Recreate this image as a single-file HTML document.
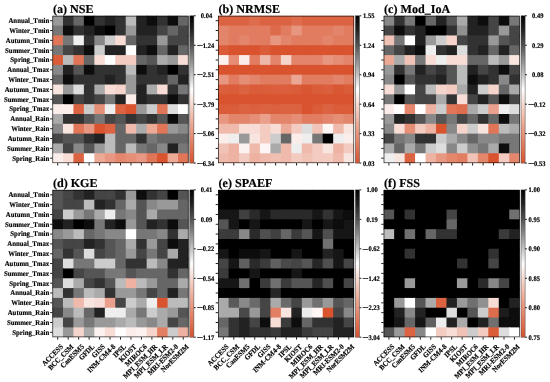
<!DOCTYPE html>
<html><head><meta charset="utf-8"><title>Model evaluation heatmaps</title>
<style>html,body{margin:0;padding:0;background:#fff}svg{display:block}text{font-family:"Liberation Serif",serif;font-weight:bold;fill:#000;stroke:#000;stroke-width:0.18px;text-rendering:geometricPrecision}</style></head><body>
<svg width="550" height="382" viewBox="0 0 550 382">
<defs><linearGradient id="cb" x1="0" y1="0" x2="0" y2="1"><stop offset="0" stop-color="#000"/><stop offset="0.1" stop-color="#242424"/><stop offset="0.2" stop-color="#525252"/><stop offset="0.3" stop-color="#8c8c8c"/><stop offset="0.4" stop-color="#c4c4c4"/><stop offset="0.5" stop-color="#fff"/><stop offset="0.75" stop-color="#eba48e"/><stop offset="1" stop-color="#d8532e"/></linearGradient>
<filter id="bl" x="0" y="0" width="550" height="382" filterUnits="userSpaceOnUse"><feGaussianBlur stdDeviation="0.45"/></filter><filter id="bt" x="0" y="0" width="550" height="382" filterUnits="userSpaceOnUse"><feGaussianBlur stdDeviation="0.3"/></filter></defs>
<rect width="550" height="382" fill="#fff"/>
<g filter="url(#bl)">
<g>
<g>
<rect x="52.50" y="15.80" width="11.46" height="10.82" fill="#999999"/>
<rect x="62.96" y="15.80" width="11.46" height="10.82" fill="#333333"/>
<rect x="73.42" y="15.80" width="11.46" height="10.82" fill="#666666"/>
<rect x="83.88" y="15.80" width="11.46" height="10.82" fill="#000000"/>
<rect x="94.35" y="15.80" width="11.46" height="10.82" fill="#333333"/>
<rect x="104.81" y="15.80" width="11.46" height="10.82" fill="#222222"/>
<rect x="115.27" y="15.80" width="11.46" height="10.82" fill="#333333"/>
<rect x="125.73" y="15.80" width="11.46" height="10.82" fill="#bbbbbb"/>
<rect x="136.19" y="15.80" width="11.46" height="10.82" fill="#222222"/>
<rect x="146.65" y="15.80" width="11.46" height="10.82" fill="#111111"/>
<rect x="157.12" y="15.80" width="11.46" height="10.82" fill="#333333"/>
<rect x="167.58" y="15.80" width="11.46" height="10.82" fill="#111111"/>
<rect x="178.04" y="15.80" width="10.46" height="10.82" fill="#666666"/>
<rect x="52.50" y="25.62" width="11.46" height="10.82" fill="#777777"/>
<rect x="62.96" y="25.62" width="11.46" height="10.82" fill="#111111"/>
<rect x="73.42" y="25.62" width="11.46" height="10.82" fill="#333333"/>
<rect x="83.88" y="25.62" width="11.46" height="10.82" fill="#222222"/>
<rect x="94.35" y="25.62" width="11.46" height="10.82" fill="#111111"/>
<rect x="104.81" y="25.62" width="11.46" height="10.82" fill="#000000"/>
<rect x="115.27" y="25.62" width="11.46" height="10.82" fill="#333333"/>
<rect x="125.73" y="25.62" width="11.46" height="10.82" fill="#999999"/>
<rect x="136.19" y="25.62" width="11.46" height="10.82" fill="#222222"/>
<rect x="146.65" y="25.62" width="11.46" height="10.82" fill="#222222"/>
<rect x="157.12" y="25.62" width="11.46" height="10.82" fill="#444444"/>
<rect x="167.58" y="25.62" width="11.46" height="10.82" fill="#666666"/>
<rect x="178.04" y="25.62" width="10.46" height="10.82" fill="#444444"/>
<rect x="52.50" y="35.44" width="11.46" height="10.82" fill="#e07558"/>
<rect x="62.96" y="35.44" width="11.46" height="10.82" fill="#777777"/>
<rect x="73.42" y="35.44" width="11.46" height="10.82" fill="#f0f0f0"/>
<rect x="83.88" y="35.44" width="11.46" height="10.82" fill="#333333"/>
<rect x="94.35" y="35.44" width="11.46" height="10.82" fill="#888888"/>
<rect x="104.81" y="35.44" width="11.46" height="10.82" fill="#cccccc"/>
<rect x="115.27" y="35.44" width="11.46" height="10.82" fill="#f7ddd5"/>
<rect x="125.73" y="35.44" width="11.46" height="10.82" fill="#666666"/>
<rect x="136.19" y="35.44" width="11.46" height="10.82" fill="#333333"/>
<rect x="146.65" y="35.44" width="11.46" height="10.82" fill="#333333"/>
<rect x="157.12" y="35.44" width="11.46" height="10.82" fill="#999999"/>
<rect x="167.58" y="35.44" width="11.46" height="10.82" fill="#444444"/>
<rect x="178.04" y="35.44" width="10.46" height="10.82" fill="#444444"/>
<rect x="52.50" y="45.26" width="11.46" height="10.82" fill="#777777"/>
<rect x="62.96" y="45.26" width="11.46" height="10.82" fill="#444444"/>
<rect x="73.42" y="45.26" width="11.46" height="10.82" fill="#333333"/>
<rect x="83.88" y="45.26" width="11.46" height="10.82" fill="#111111"/>
<rect x="94.35" y="45.26" width="11.46" height="10.82" fill="#cccccc"/>
<rect x="104.81" y="45.26" width="11.46" height="10.82" fill="#222222"/>
<rect x="115.27" y="45.26" width="11.46" height="10.82" fill="#222222"/>
<rect x="125.73" y="45.26" width="11.46" height="10.82" fill="#ffffff"/>
<rect x="136.19" y="45.26" width="11.46" height="10.82" fill="#222222"/>
<rect x="146.65" y="45.26" width="11.46" height="10.82" fill="#111111"/>
<rect x="157.12" y="45.26" width="11.46" height="10.82" fill="#666666"/>
<rect x="167.58" y="45.26" width="11.46" height="10.82" fill="#222222"/>
<rect x="178.04" y="45.26" width="10.46" height="10.82" fill="#666666"/>
<rect x="52.50" y="55.08" width="11.46" height="10.82" fill="#da5c38"/>
<rect x="62.96" y="55.08" width="11.46" height="10.82" fill="#bbbbbb"/>
<rect x="73.42" y="55.08" width="11.46" height="10.82" fill="#e07558"/>
<rect x="83.88" y="55.08" width="11.46" height="10.82" fill="#666666"/>
<rect x="94.35" y="55.08" width="11.46" height="10.82" fill="#f7ddd5"/>
<rect x="104.81" y="55.08" width="11.46" height="10.82" fill="#ffffff"/>
<rect x="115.27" y="55.08" width="11.46" height="10.82" fill="#f3cbc0"/>
<rect x="125.73" y="55.08" width="11.46" height="10.82" fill="#f3cbc0"/>
<rect x="136.19" y="55.08" width="11.46" height="10.82" fill="#666666"/>
<rect x="146.65" y="55.08" width="11.46" height="10.82" fill="#555555"/>
<rect x="157.12" y="55.08" width="11.46" height="10.82" fill="#aaaaaa"/>
<rect x="167.58" y="55.08" width="11.46" height="10.82" fill="#999999"/>
<rect x="178.04" y="55.08" width="10.46" height="10.82" fill="#f7ddd5"/>
<rect x="52.50" y="64.90" width="11.46" height="10.82" fill="#888888"/>
<rect x="62.96" y="64.90" width="11.46" height="10.82" fill="#222222"/>
<rect x="73.42" y="64.90" width="11.46" height="10.82" fill="#555555"/>
<rect x="83.88" y="64.90" width="11.46" height="10.82" fill="#111111"/>
<rect x="94.35" y="64.90" width="11.46" height="10.82" fill="#333333"/>
<rect x="104.81" y="64.90" width="11.46" height="10.82" fill="#333333"/>
<rect x="115.27" y="64.90" width="11.46" height="10.82" fill="#333333"/>
<rect x="125.73" y="64.90" width="11.46" height="10.82" fill="#bbbbbb"/>
<rect x="136.19" y="64.90" width="11.46" height="10.82" fill="#111111"/>
<rect x="146.65" y="64.90" width="11.46" height="10.82" fill="#333333"/>
<rect x="157.12" y="64.90" width="11.46" height="10.82" fill="#222222"/>
<rect x="167.58" y="64.90" width="11.46" height="10.82" fill="#000000"/>
<rect x="178.04" y="64.90" width="10.46" height="10.82" fill="#333333"/>
<rect x="52.50" y="74.72" width="11.46" height="10.82" fill="#666666"/>
<rect x="62.96" y="74.72" width="11.46" height="10.82" fill="#111111"/>
<rect x="73.42" y="74.72" width="11.46" height="10.82" fill="#333333"/>
<rect x="83.88" y="74.72" width="11.46" height="10.82" fill="#333333"/>
<rect x="94.35" y="74.72" width="11.46" height="10.82" fill="#333333"/>
<rect x="104.81" y="74.72" width="11.46" height="10.82" fill="#222222"/>
<rect x="115.27" y="74.72" width="11.46" height="10.82" fill="#333333"/>
<rect x="125.73" y="74.72" width="11.46" height="10.82" fill="#999999"/>
<rect x="136.19" y="74.72" width="11.46" height="10.82" fill="#333333"/>
<rect x="146.65" y="74.72" width="11.46" height="10.82" fill="#333333"/>
<rect x="157.12" y="74.72" width="11.46" height="10.82" fill="#333333"/>
<rect x="167.58" y="74.72" width="11.46" height="10.82" fill="#666666"/>
<rect x="178.04" y="74.72" width="10.46" height="10.82" fill="#222222"/>
<rect x="52.50" y="84.54" width="11.46" height="10.82" fill="#f9e5e0"/>
<rect x="62.96" y="84.54" width="11.46" height="10.82" fill="#999999"/>
<rect x="73.42" y="84.54" width="11.46" height="10.82" fill="#dddddd"/>
<rect x="83.88" y="84.54" width="11.46" height="10.82" fill="#333333"/>
<rect x="94.35" y="84.54" width="11.46" height="10.82" fill="#aaaaaa"/>
<rect x="104.81" y="84.54" width="11.46" height="10.82" fill="#f7ddd5"/>
<rect x="115.27" y="84.54" width="11.46" height="10.82" fill="#f5d4cb"/>
<rect x="125.73" y="84.54" width="11.46" height="10.82" fill="#999999"/>
<rect x="136.19" y="84.54" width="11.46" height="10.82" fill="#222222"/>
<rect x="146.65" y="84.54" width="11.46" height="10.82" fill="#aaaaaa"/>
<rect x="157.12" y="84.54" width="11.46" height="10.82" fill="#f7ddd5"/>
<rect x="167.58" y="84.54" width="11.46" height="10.82" fill="#333333"/>
<rect x="178.04" y="84.54" width="10.46" height="10.82" fill="#777777"/>
<rect x="52.50" y="94.36" width="11.46" height="10.82" fill="#555555"/>
<rect x="62.96" y="94.36" width="11.46" height="10.82" fill="#000000"/>
<rect x="73.42" y="94.36" width="11.46" height="10.82" fill="#444444"/>
<rect x="83.88" y="94.36" width="11.46" height="10.82" fill="#333333"/>
<rect x="94.35" y="94.36" width="11.46" height="10.82" fill="#444444"/>
<rect x="104.81" y="94.36" width="11.46" height="10.82" fill="#777777"/>
<rect x="115.27" y="94.36" width="11.46" height="10.82" fill="#222222"/>
<rect x="125.73" y="94.36" width="11.46" height="10.82" fill="#fbeeea"/>
<rect x="136.19" y="94.36" width="11.46" height="10.82" fill="#222222"/>
<rect x="146.65" y="94.36" width="11.46" height="10.82" fill="#333333"/>
<rect x="157.12" y="94.36" width="11.46" height="10.82" fill="#333333"/>
<rect x="167.58" y="94.36" width="11.46" height="10.82" fill="#111111"/>
<rect x="178.04" y="94.36" width="10.46" height="10.82" fill="#333333"/>
<rect x="52.50" y="104.18" width="11.46" height="10.82" fill="#fbeeea"/>
<rect x="62.96" y="104.18" width="11.46" height="10.82" fill="#fbeeea"/>
<rect x="73.42" y="104.18" width="11.46" height="10.82" fill="#dc6443"/>
<rect x="83.88" y="104.18" width="11.46" height="10.82" fill="#cccccc"/>
<rect x="94.35" y="104.18" width="11.46" height="10.82" fill="#e68f77"/>
<rect x="104.81" y="104.18" width="11.46" height="10.82" fill="#eeeeee"/>
<rect x="115.27" y="104.18" width="11.46" height="10.82" fill="#dc6443"/>
<rect x="125.73" y="104.18" width="11.46" height="10.82" fill="#d8532e"/>
<rect x="136.19" y="104.18" width="11.46" height="10.82" fill="#999999"/>
<rect x="146.65" y="104.18" width="11.46" height="10.82" fill="#cccccc"/>
<rect x="157.12" y="104.18" width="11.46" height="10.82" fill="#e07558"/>
<rect x="167.58" y="104.18" width="11.46" height="10.82" fill="#dddddd"/>
<rect x="178.04" y="104.18" width="10.46" height="10.82" fill="#ffffff"/>
<rect x="52.50" y="114.00" width="11.46" height="10.82" fill="#aaaaaa"/>
<rect x="62.96" y="114.00" width="11.46" height="10.82" fill="#333333"/>
<rect x="73.42" y="114.00" width="11.46" height="10.82" fill="#333333"/>
<rect x="83.88" y="114.00" width="11.46" height="10.82" fill="#555555"/>
<rect x="94.35" y="114.00" width="11.46" height="10.82" fill="#777777"/>
<rect x="104.81" y="114.00" width="11.46" height="10.82" fill="#444444"/>
<rect x="115.27" y="114.00" width="11.46" height="10.82" fill="#555555"/>
<rect x="125.73" y="114.00" width="11.46" height="10.82" fill="#333333"/>
<rect x="136.19" y="114.00" width="11.46" height="10.82" fill="#444444"/>
<rect x="146.65" y="114.00" width="11.46" height="10.82" fill="#333333"/>
<rect x="157.12" y="114.00" width="11.46" height="10.82" fill="#555555"/>
<rect x="167.58" y="114.00" width="11.46" height="10.82" fill="#111111"/>
<rect x="178.04" y="114.00" width="10.46" height="10.82" fill="#555555"/>
<rect x="52.50" y="123.82" width="11.46" height="10.82" fill="#888888"/>
<rect x="62.96" y="123.82" width="11.46" height="10.82" fill="#f9e5e0"/>
<rect x="73.42" y="123.82" width="11.46" height="10.82" fill="#e07558"/>
<rect x="83.88" y="123.82" width="11.46" height="10.82" fill="#e89882"/>
<rect x="94.35" y="123.82" width="11.46" height="10.82" fill="#d8532e"/>
<rect x="104.81" y="123.82" width="11.46" height="10.82" fill="#dc6443"/>
<rect x="115.27" y="123.82" width="11.46" height="10.82" fill="#666666"/>
<rect x="125.73" y="123.82" width="11.46" height="10.82" fill="#efbaab"/>
<rect x="136.19" y="123.82" width="11.46" height="10.82" fill="#aaaaaa"/>
<rect x="146.65" y="123.82" width="11.46" height="10.82" fill="#eca996"/>
<rect x="157.12" y="123.82" width="11.46" height="10.82" fill="#e07558"/>
<rect x="167.58" y="123.82" width="11.46" height="10.82" fill="#999999"/>
<rect x="178.04" y="123.82" width="10.46" height="10.82" fill="#888888"/>
<rect x="52.50" y="133.64" width="11.46" height="10.82" fill="#444444"/>
<rect x="62.96" y="133.64" width="11.46" height="10.82" fill="#555555"/>
<rect x="73.42" y="133.64" width="11.46" height="10.82" fill="#555555"/>
<rect x="83.88" y="133.64" width="11.46" height="10.82" fill="#333333"/>
<rect x="94.35" y="133.64" width="11.46" height="10.82" fill="#222222"/>
<rect x="104.81" y="133.64" width="11.46" height="10.82" fill="#bbbbbb"/>
<rect x="115.27" y="133.64" width="11.46" height="10.82" fill="#666666"/>
<rect x="125.73" y="133.64" width="11.46" height="10.82" fill="#666666"/>
<rect x="136.19" y="133.64" width="11.46" height="10.82" fill="#333333"/>
<rect x="146.65" y="133.64" width="11.46" height="10.82" fill="#777777"/>
<rect x="157.12" y="133.64" width="11.46" height="10.82" fill="#666666"/>
<rect x="167.58" y="133.64" width="11.46" height="10.82" fill="#666666"/>
<rect x="178.04" y="133.64" width="10.46" height="10.82" fill="#666666"/>
<rect x="52.50" y="143.46" width="11.46" height="10.82" fill="#aaaaaa"/>
<rect x="62.96" y="143.46" width="11.46" height="10.82" fill="#444444"/>
<rect x="73.42" y="143.46" width="11.46" height="10.82" fill="#888888"/>
<rect x="83.88" y="143.46" width="11.46" height="10.82" fill="#555555"/>
<rect x="94.35" y="143.46" width="11.46" height="10.82" fill="#999999"/>
<rect x="104.81" y="143.46" width="11.46" height="10.82" fill="#bbbbbb"/>
<rect x="115.27" y="143.46" width="11.46" height="10.82" fill="#666666"/>
<rect x="125.73" y="143.46" width="11.46" height="10.82" fill="#bbbbbb"/>
<rect x="136.19" y="143.46" width="11.46" height="10.82" fill="#777777"/>
<rect x="146.65" y="143.46" width="11.46" height="10.82" fill="#666666"/>
<rect x="157.12" y="143.46" width="11.46" height="10.82" fill="#888888"/>
<rect x="167.58" y="143.46" width="11.46" height="10.82" fill="#222222"/>
<rect x="178.04" y="143.46" width="10.46" height="10.82" fill="#777777"/>
<rect x="52.50" y="153.28" width="11.46" height="9.82" fill="#fbeeea"/>
<rect x="62.96" y="153.28" width="11.46" height="9.82" fill="#f7ddd5"/>
<rect x="73.42" y="153.28" width="11.46" height="9.82" fill="#dc6443"/>
<rect x="83.88" y="153.28" width="11.46" height="9.82" fill="#ffffff"/>
<rect x="94.35" y="153.28" width="11.46" height="9.82" fill="#eca996"/>
<rect x="104.81" y="153.28" width="11.46" height="9.82" fill="#e89882"/>
<rect x="115.27" y="153.28" width="11.46" height="9.82" fill="#e4876d"/>
<rect x="125.73" y="153.28" width="11.46" height="9.82" fill="#e68f77"/>
<rect x="136.19" y="153.28" width="11.46" height="9.82" fill="#e89882"/>
<rect x="146.65" y="153.28" width="11.46" height="9.82" fill="#e07558"/>
<rect x="157.12" y="153.28" width="11.46" height="9.82" fill="#d8532e"/>
<rect x="167.58" y="153.28" width="11.46" height="9.82" fill="#eca996"/>
<rect x="178.04" y="153.28" width="10.46" height="9.82" fill="#e07558"/>
</g>
<rect x="52.80" y="16.10" width="135.40" height="146.70" fill="none" stroke="#000" stroke-width="0.6"/>
<line x1="50.10" y1="20.71" x2="52.50" y2="20.71" stroke="#000" stroke-width="0.9"/>
<line x1="50.10" y1="30.53" x2="52.50" y2="30.53" stroke="#000" stroke-width="0.9"/>
<line x1="50.10" y1="40.35" x2="52.50" y2="40.35" stroke="#000" stroke-width="0.9"/>
<line x1="50.10" y1="50.17" x2="52.50" y2="50.17" stroke="#000" stroke-width="0.9"/>
<line x1="50.10" y1="59.99" x2="52.50" y2="59.99" stroke="#000" stroke-width="0.9"/>
<line x1="50.10" y1="69.81" x2="52.50" y2="69.81" stroke="#000" stroke-width="0.9"/>
<line x1="50.10" y1="79.63" x2="52.50" y2="79.63" stroke="#000" stroke-width="0.9"/>
<line x1="50.10" y1="89.45" x2="52.50" y2="89.45" stroke="#000" stroke-width="0.9"/>
<line x1="50.10" y1="99.27" x2="52.50" y2="99.27" stroke="#000" stroke-width="0.9"/>
<line x1="50.10" y1="109.09" x2="52.50" y2="109.09" stroke="#000" stroke-width="0.9"/>
<line x1="50.10" y1="118.91" x2="52.50" y2="118.91" stroke="#000" stroke-width="0.9"/>
<line x1="50.10" y1="128.73" x2="52.50" y2="128.73" stroke="#000" stroke-width="0.9"/>
<line x1="50.10" y1="138.55" x2="52.50" y2="138.55" stroke="#000" stroke-width="0.9"/>
<line x1="50.10" y1="148.37" x2="52.50" y2="148.37" stroke="#000" stroke-width="0.9"/>
<line x1="50.10" y1="158.19" x2="52.50" y2="158.19" stroke="#000" stroke-width="0.9"/>
<line x1="57.73" y1="163.10" x2="57.73" y2="165.50" stroke="#000" stroke-width="0.9"/>
<line x1="68.19" y1="163.10" x2="68.19" y2="165.50" stroke="#000" stroke-width="0.9"/>
<line x1="78.65" y1="163.10" x2="78.65" y2="165.50" stroke="#000" stroke-width="0.9"/>
<line x1="89.12" y1="163.10" x2="89.12" y2="165.50" stroke="#000" stroke-width="0.9"/>
<line x1="99.58" y1="163.10" x2="99.58" y2="165.50" stroke="#000" stroke-width="0.9"/>
<line x1="110.04" y1="163.10" x2="110.04" y2="165.50" stroke="#000" stroke-width="0.9"/>
<line x1="120.50" y1="163.10" x2="120.50" y2="165.50" stroke="#000" stroke-width="0.9"/>
<line x1="130.96" y1="163.10" x2="130.96" y2="165.50" stroke="#000" stroke-width="0.9"/>
<line x1="141.42" y1="163.10" x2="141.42" y2="165.50" stroke="#000" stroke-width="0.9"/>
<line x1="151.88" y1="163.10" x2="151.88" y2="165.50" stroke="#000" stroke-width="0.9"/>
<line x1="162.35" y1="163.10" x2="162.35" y2="165.50" stroke="#000" stroke-width="0.9"/>
<line x1="172.81" y1="163.10" x2="172.81" y2="165.50" stroke="#000" stroke-width="0.9"/>
<line x1="183.27" y1="163.10" x2="183.27" y2="165.50" stroke="#000" stroke-width="0.9"/>
<rect x="189.80" y="15.80" width="4.10" height="147.30" fill="url(#cb)" stroke="#444" stroke-width="0.5"/>
<line x1="193.90" y1="15.80" x2="195.70" y2="15.80" stroke="#000" stroke-width="0.9"/>
<line x1="193.90" y1="45.26" x2="195.70" y2="45.26" stroke="#000" stroke-width="0.9"/>
<line x1="193.90" y1="74.72" x2="195.70" y2="74.72" stroke="#000" stroke-width="0.9"/>
<line x1="193.90" y1="104.18" x2="195.70" y2="104.18" stroke="#000" stroke-width="0.9"/>
<line x1="193.90" y1="133.64" x2="195.70" y2="133.64" stroke="#000" stroke-width="0.9"/>
<line x1="193.90" y1="163.10" x2="195.70" y2="163.10" stroke="#000" stroke-width="0.9"/>
</g>
<g>
<g>
<rect x="218.10" y="15.80" width="11.46" height="10.82" fill="#dc6443"/>
<rect x="228.56" y="15.80" width="11.46" height="10.82" fill="#dc6443"/>
<rect x="239.02" y="15.80" width="11.46" height="10.82" fill="#dc6443"/>
<rect x="249.48" y="15.80" width="11.46" height="10.82" fill="#de6d4d"/>
<rect x="259.95" y="15.80" width="11.46" height="10.82" fill="#dc6443"/>
<rect x="270.41" y="15.80" width="11.46" height="10.82" fill="#dc6443"/>
<rect x="280.87" y="15.80" width="11.46" height="10.82" fill="#dc6443"/>
<rect x="291.33" y="15.80" width="11.46" height="10.82" fill="#de6d4d"/>
<rect x="301.79" y="15.80" width="11.46" height="10.82" fill="#dc6443"/>
<rect x="312.25" y="15.80" width="11.46" height="10.82" fill="#dc6443"/>
<rect x="322.72" y="15.80" width="11.46" height="10.82" fill="#dc6443"/>
<rect x="333.18" y="15.80" width="11.46" height="10.82" fill="#dc6443"/>
<rect x="343.64" y="15.80" width="10.46" height="10.82" fill="#dc6443"/>
<rect x="218.10" y="25.62" width="11.46" height="10.82" fill="#e3856b"/>
<rect x="228.56" y="25.62" width="11.46" height="10.82" fill="#e17c60"/>
<rect x="239.02" y="25.62" width="11.46" height="10.82" fill="#e17c60"/>
<rect x="249.48" y="25.62" width="11.46" height="10.82" fill="#e17c60"/>
<rect x="259.95" y="25.62" width="11.46" height="10.82" fill="#e17c60"/>
<rect x="270.41" y="25.62" width="11.46" height="10.82" fill="#dd6b4b"/>
<rect x="280.87" y="25.62" width="11.46" height="10.82" fill="#e17c60"/>
<rect x="291.33" y="25.62" width="11.46" height="10.82" fill="#e79680"/>
<rect x="301.79" y="25.62" width="11.46" height="10.82" fill="#e17c60"/>
<rect x="312.25" y="25.62" width="11.46" height="10.82" fill="#e17c60"/>
<rect x="322.72" y="25.62" width="11.46" height="10.82" fill="#e17c60"/>
<rect x="333.18" y="25.62" width="11.46" height="10.82" fill="#e3856b"/>
<rect x="343.64" y="25.62" width="10.46" height="10.82" fill="#e17c60"/>
<rect x="218.10" y="35.44" width="11.46" height="10.82" fill="#e3856b"/>
<rect x="228.56" y="35.44" width="11.46" height="10.82" fill="#e17c60"/>
<rect x="239.02" y="35.44" width="11.46" height="10.82" fill="#e3856b"/>
<rect x="249.48" y="35.44" width="11.46" height="10.82" fill="#e17c60"/>
<rect x="259.95" y="35.44" width="11.46" height="10.82" fill="#e17c60"/>
<rect x="270.41" y="35.44" width="11.46" height="10.82" fill="#e79680"/>
<rect x="280.87" y="35.44" width="11.46" height="10.82" fill="#e3856b"/>
<rect x="291.33" y="35.44" width="11.46" height="10.82" fill="#e17c60"/>
<rect x="301.79" y="35.44" width="11.46" height="10.82" fill="#e17c60"/>
<rect x="312.25" y="35.44" width="11.46" height="10.82" fill="#e17c60"/>
<rect x="322.72" y="35.44" width="11.46" height="10.82" fill="#e3856b"/>
<rect x="333.18" y="35.44" width="11.46" height="10.82" fill="#e17c60"/>
<rect x="343.64" y="35.44" width="10.46" height="10.82" fill="#e17c60"/>
<rect x="218.10" y="45.26" width="11.46" height="10.82" fill="#da5c38"/>
<rect x="228.56" y="45.26" width="11.46" height="10.82" fill="#d8532e"/>
<rect x="239.02" y="45.26" width="11.46" height="10.82" fill="#d8532e"/>
<rect x="249.48" y="45.26" width="11.46" height="10.82" fill="#d8532e"/>
<rect x="259.95" y="45.26" width="11.46" height="10.82" fill="#da5c38"/>
<rect x="270.41" y="45.26" width="11.46" height="10.82" fill="#d8532e"/>
<rect x="280.87" y="45.26" width="11.46" height="10.82" fill="#d8532e"/>
<rect x="291.33" y="45.26" width="11.46" height="10.82" fill="#d8532e"/>
<rect x="301.79" y="45.26" width="11.46" height="10.82" fill="#d8532e"/>
<rect x="312.25" y="45.26" width="11.46" height="10.82" fill="#d8532e"/>
<rect x="322.72" y="45.26" width="11.46" height="10.82" fill="#d8532e"/>
<rect x="333.18" y="45.26" width="11.46" height="10.82" fill="#d8532e"/>
<rect x="343.64" y="45.26" width="10.46" height="10.82" fill="#d8532e"/>
<rect x="218.10" y="55.08" width="11.46" height="10.82" fill="#fcf3f0"/>
<rect x="228.56" y="55.08" width="11.46" height="10.82" fill="#e58d75"/>
<rect x="239.02" y="55.08" width="11.46" height="10.82" fill="#fbeeea"/>
<rect x="249.48" y="55.08" width="11.46" height="10.82" fill="#e17c60"/>
<rect x="259.95" y="55.08" width="11.46" height="10.82" fill="#efb7a7"/>
<rect x="270.41" y="55.08" width="11.46" height="10.82" fill="#e3856b"/>
<rect x="280.87" y="55.08" width="11.46" height="10.82" fill="#f5d4cb"/>
<rect x="291.33" y="55.08" width="11.46" height="10.82" fill="#e3856b"/>
<rect x="301.79" y="55.08" width="11.46" height="10.82" fill="#e3856b"/>
<rect x="312.25" y="55.08" width="11.46" height="10.82" fill="#e3856b"/>
<rect x="322.72" y="55.08" width="11.46" height="10.82" fill="#e79680"/>
<rect x="333.18" y="55.08" width="11.46" height="10.82" fill="#e58d75"/>
<rect x="343.64" y="55.08" width="10.46" height="10.82" fill="#e3856b"/>
<rect x="218.10" y="64.90" width="11.46" height="10.82" fill="#d8532e"/>
<rect x="228.56" y="64.90" width="11.46" height="10.82" fill="#d8532e"/>
<rect x="239.02" y="64.90" width="11.46" height="10.82" fill="#d8532e"/>
<rect x="249.48" y="64.90" width="11.46" height="10.82" fill="#d8532e"/>
<rect x="259.95" y="64.90" width="11.46" height="10.82" fill="#d8532e"/>
<rect x="270.41" y="64.90" width="11.46" height="10.82" fill="#d8532e"/>
<rect x="280.87" y="64.90" width="11.46" height="10.82" fill="#d8532e"/>
<rect x="291.33" y="64.90" width="11.46" height="10.82" fill="#d8532e"/>
<rect x="301.79" y="64.90" width="11.46" height="10.82" fill="#d8532e"/>
<rect x="312.25" y="64.90" width="11.46" height="10.82" fill="#d8532e"/>
<rect x="322.72" y="64.90" width="11.46" height="10.82" fill="#d8532e"/>
<rect x="333.18" y="64.90" width="11.46" height="10.82" fill="#d8532e"/>
<rect x="343.64" y="64.90" width="10.46" height="10.82" fill="#d8532e"/>
<rect x="218.10" y="74.72" width="11.46" height="10.82" fill="#e79680"/>
<rect x="228.56" y="74.72" width="11.46" height="10.82" fill="#e17c60"/>
<rect x="239.02" y="74.72" width="11.46" height="10.82" fill="#e58d75"/>
<rect x="249.48" y="74.72" width="11.46" height="10.82" fill="#e3856b"/>
<rect x="259.95" y="74.72" width="11.46" height="10.82" fill="#e17c60"/>
<rect x="270.41" y="74.72" width="11.46" height="10.82" fill="#e17c60"/>
<rect x="280.87" y="74.72" width="11.46" height="10.82" fill="#e17c60"/>
<rect x="291.33" y="74.72" width="11.46" height="10.82" fill="#eba794"/>
<rect x="301.79" y="74.72" width="11.46" height="10.82" fill="#e17c60"/>
<rect x="312.25" y="74.72" width="11.46" height="10.82" fill="#e17c60"/>
<rect x="322.72" y="74.72" width="11.46" height="10.82" fill="#e17c60"/>
<rect x="333.18" y="74.72" width="11.46" height="10.82" fill="#e3856b"/>
<rect x="343.64" y="74.72" width="10.46" height="10.82" fill="#e17c60"/>
<rect x="218.10" y="84.54" width="11.46" height="10.82" fill="#db5f3d"/>
<rect x="228.56" y="84.54" width="11.46" height="10.82" fill="#da5c38"/>
<rect x="239.02" y="84.54" width="11.46" height="10.82" fill="#dc6443"/>
<rect x="249.48" y="84.54" width="11.46" height="10.82" fill="#da5c38"/>
<rect x="259.95" y="84.54" width="11.46" height="10.82" fill="#da5c38"/>
<rect x="270.41" y="84.54" width="11.46" height="10.82" fill="#db5f3d"/>
<rect x="280.87" y="84.54" width="11.46" height="10.82" fill="#db5f3d"/>
<rect x="291.33" y="84.54" width="11.46" height="10.82" fill="#da5c38"/>
<rect x="301.79" y="84.54" width="11.46" height="10.82" fill="#d95632"/>
<rect x="312.25" y="84.54" width="11.46" height="10.82" fill="#da5c38"/>
<rect x="322.72" y="84.54" width="11.46" height="10.82" fill="#db5f3d"/>
<rect x="333.18" y="84.54" width="11.46" height="10.82" fill="#d95632"/>
<rect x="343.64" y="84.54" width="10.46" height="10.82" fill="#da5c38"/>
<rect x="218.10" y="94.36" width="11.46" height="10.82" fill="#d8532e"/>
<rect x="228.56" y="94.36" width="11.46" height="10.82" fill="#d8532e"/>
<rect x="239.02" y="94.36" width="11.46" height="10.82" fill="#d8532e"/>
<rect x="249.48" y="94.36" width="11.46" height="10.82" fill="#d8532e"/>
<rect x="259.95" y="94.36" width="11.46" height="10.82" fill="#d8532e"/>
<rect x="270.41" y="94.36" width="11.46" height="10.82" fill="#d8532e"/>
<rect x="280.87" y="94.36" width="11.46" height="10.82" fill="#d8532e"/>
<rect x="291.33" y="94.36" width="11.46" height="10.82" fill="#d8532e"/>
<rect x="301.79" y="94.36" width="11.46" height="10.82" fill="#d8532e"/>
<rect x="312.25" y="94.36" width="11.46" height="10.82" fill="#d8532e"/>
<rect x="322.72" y="94.36" width="11.46" height="10.82" fill="#d8532e"/>
<rect x="333.18" y="94.36" width="11.46" height="10.82" fill="#d8532e"/>
<rect x="343.64" y="94.36" width="10.46" height="10.82" fill="#d8532e"/>
<rect x="218.10" y="104.18" width="11.46" height="10.82" fill="#da5c38"/>
<rect x="228.56" y="104.18" width="11.46" height="10.82" fill="#da5c38"/>
<rect x="239.02" y="104.18" width="11.46" height="10.82" fill="#dc6443"/>
<rect x="249.48" y="104.18" width="11.46" height="10.82" fill="#db613f"/>
<rect x="259.95" y="104.18" width="11.46" height="10.82" fill="#dc6443"/>
<rect x="270.41" y="104.18" width="11.46" height="10.82" fill="#db613f"/>
<rect x="280.87" y="104.18" width="11.46" height="10.82" fill="#dc6443"/>
<rect x="291.33" y="104.18" width="11.46" height="10.82" fill="#dc6443"/>
<rect x="301.79" y="104.18" width="11.46" height="10.82" fill="#d8532e"/>
<rect x="312.25" y="104.18" width="11.46" height="10.82" fill="#da5c38"/>
<rect x="322.72" y="104.18" width="11.46" height="10.82" fill="#dc6443"/>
<rect x="333.18" y="104.18" width="11.46" height="10.82" fill="#da5c38"/>
<rect x="343.64" y="104.18" width="10.46" height="10.82" fill="#da5c38"/>
<rect x="218.10" y="114.00" width="11.46" height="10.82" fill="#e79680"/>
<rect x="228.56" y="114.00" width="11.46" height="10.82" fill="#e3856b"/>
<rect x="239.02" y="114.00" width="11.46" height="10.82" fill="#e3856b"/>
<rect x="249.48" y="114.00" width="11.46" height="10.82" fill="#e58d75"/>
<rect x="259.95" y="114.00" width="11.46" height="10.82" fill="#e99f8a"/>
<rect x="270.41" y="114.00" width="11.46" height="10.82" fill="#e3856b"/>
<rect x="280.87" y="114.00" width="11.46" height="10.82" fill="#e3856b"/>
<rect x="291.33" y="114.00" width="11.46" height="10.82" fill="#e58d75"/>
<rect x="301.79" y="114.00" width="11.46" height="10.82" fill="#e17c60"/>
<rect x="312.25" y="114.00" width="11.46" height="10.82" fill="#e17c60"/>
<rect x="322.72" y="114.00" width="11.46" height="10.82" fill="#e3856b"/>
<rect x="333.18" y="114.00" width="11.46" height="10.82" fill="#e58d75"/>
<rect x="343.64" y="114.00" width="10.46" height="10.82" fill="#e3856b"/>
<rect x="218.10" y="123.82" width="11.46" height="10.82" fill="#efbaab"/>
<rect x="228.56" y="123.82" width="11.46" height="10.82" fill="#efbaab"/>
<rect x="239.02" y="123.82" width="11.46" height="10.82" fill="#f7ddd5"/>
<rect x="249.48" y="123.82" width="11.46" height="10.82" fill="#f7ddd5"/>
<rect x="259.95" y="123.82" width="11.46" height="10.82" fill="#f3cbc0"/>
<rect x="270.41" y="123.82" width="11.46" height="10.82" fill="#f7ddd5"/>
<rect x="280.87" y="123.82" width="11.46" height="10.82" fill="#eca996"/>
<rect x="291.33" y="123.82" width="11.46" height="10.82" fill="#f3cbc0"/>
<rect x="301.79" y="123.82" width="11.46" height="10.82" fill="#dddddd"/>
<rect x="312.25" y="123.82" width="11.46" height="10.82" fill="#f1c3b6"/>
<rect x="322.72" y="123.82" width="11.46" height="10.82" fill="#fdf6f5"/>
<rect x="333.18" y="123.82" width="11.46" height="10.82" fill="#efbaab"/>
<rect x="343.64" y="123.82" width="10.46" height="10.82" fill="#f9e5e0"/>
<rect x="218.10" y="133.64" width="11.46" height="10.82" fill="#fbeeea"/>
<rect x="228.56" y="133.64" width="11.46" height="10.82" fill="#eeeeee"/>
<rect x="239.02" y="133.64" width="11.46" height="10.82" fill="#999999"/>
<rect x="249.48" y="133.64" width="11.46" height="10.82" fill="#f9e5e0"/>
<rect x="259.95" y="133.64" width="11.46" height="10.82" fill="#f3cbc0"/>
<rect x="270.41" y="133.64" width="11.46" height="10.82" fill="#cccccc"/>
<rect x="280.87" y="133.64" width="11.46" height="10.82" fill="#666666"/>
<rect x="291.33" y="133.64" width="11.46" height="10.82" fill="#fbeeea"/>
<rect x="301.79" y="133.64" width="11.46" height="10.82" fill="#eeeeee"/>
<rect x="312.25" y="133.64" width="11.46" height="10.82" fill="#777777"/>
<rect x="322.72" y="133.64" width="11.46" height="10.82" fill="#000000"/>
<rect x="333.18" y="133.64" width="11.46" height="10.82" fill="#eeeeee"/>
<rect x="343.64" y="133.64" width="10.46" height="10.82" fill="#fbeeea"/>
<rect x="218.10" y="143.46" width="11.46" height="10.82" fill="#f1c3b6"/>
<rect x="228.56" y="143.46" width="11.46" height="10.82" fill="#edb2a1"/>
<rect x="239.02" y="143.46" width="11.46" height="10.82" fill="#fcf3f0"/>
<rect x="249.48" y="143.46" width="11.46" height="10.82" fill="#efbaab"/>
<rect x="259.95" y="143.46" width="11.46" height="10.82" fill="#fdf6f5"/>
<rect x="270.41" y="143.46" width="11.46" height="10.82" fill="#aaaaaa"/>
<rect x="280.87" y="143.46" width="11.46" height="10.82" fill="#efbaab"/>
<rect x="291.33" y="143.46" width="11.46" height="10.82" fill="#eeeeee"/>
<rect x="301.79" y="143.46" width="11.46" height="10.82" fill="#efbaab"/>
<rect x="312.25" y="143.46" width="11.46" height="10.82" fill="#f3cbc0"/>
<rect x="322.72" y="143.46" width="11.46" height="10.82" fill="#f9e5e0"/>
<rect x="333.18" y="143.46" width="11.46" height="10.82" fill="#edb2a1"/>
<rect x="343.64" y="143.46" width="10.46" height="10.82" fill="#f3cbc0"/>
<rect x="218.10" y="153.28" width="11.46" height="9.82" fill="#efbaab"/>
<rect x="228.56" y="153.28" width="11.46" height="9.82" fill="#edb2a1"/>
<rect x="239.02" y="153.28" width="11.46" height="9.82" fill="#f3cbc0"/>
<rect x="249.48" y="153.28" width="11.46" height="9.82" fill="#edb2a1"/>
<rect x="259.95" y="153.28" width="11.46" height="9.82" fill="#efbaab"/>
<rect x="270.41" y="153.28" width="11.46" height="9.82" fill="#f1bfb2"/>
<rect x="280.87" y="153.28" width="11.46" height="9.82" fill="#efbaab"/>
<rect x="291.33" y="153.28" width="11.46" height="9.82" fill="#f3cbc0"/>
<rect x="301.79" y="153.28" width="11.46" height="9.82" fill="#f1c3b6"/>
<rect x="312.25" y="153.28" width="11.46" height="9.82" fill="#f3cbc0"/>
<rect x="322.72" y="153.28" width="11.46" height="9.82" fill="#f3cbc0"/>
<rect x="333.18" y="153.28" width="11.46" height="9.82" fill="#efbaab"/>
<rect x="343.64" y="153.28" width="10.46" height="9.82" fill="#f9e5e0"/>
</g>
<rect x="218.40" y="16.10" width="135.40" height="146.70" fill="none" stroke="#000" stroke-width="0.6"/>
<line x1="215.70" y1="20.71" x2="218.10" y2="20.71" stroke="#000" stroke-width="0.9"/>
<line x1="215.70" y1="30.53" x2="218.10" y2="30.53" stroke="#000" stroke-width="0.9"/>
<line x1="215.70" y1="40.35" x2="218.10" y2="40.35" stroke="#000" stroke-width="0.9"/>
<line x1="215.70" y1="50.17" x2="218.10" y2="50.17" stroke="#000" stroke-width="0.9"/>
<line x1="215.70" y1="59.99" x2="218.10" y2="59.99" stroke="#000" stroke-width="0.9"/>
<line x1="215.70" y1="69.81" x2="218.10" y2="69.81" stroke="#000" stroke-width="0.9"/>
<line x1="215.70" y1="79.63" x2="218.10" y2="79.63" stroke="#000" stroke-width="0.9"/>
<line x1="215.70" y1="89.45" x2="218.10" y2="89.45" stroke="#000" stroke-width="0.9"/>
<line x1="215.70" y1="99.27" x2="218.10" y2="99.27" stroke="#000" stroke-width="0.9"/>
<line x1="215.70" y1="109.09" x2="218.10" y2="109.09" stroke="#000" stroke-width="0.9"/>
<line x1="215.70" y1="118.91" x2="218.10" y2="118.91" stroke="#000" stroke-width="0.9"/>
<line x1="215.70" y1="128.73" x2="218.10" y2="128.73" stroke="#000" stroke-width="0.9"/>
<line x1="215.70" y1="138.55" x2="218.10" y2="138.55" stroke="#000" stroke-width="0.9"/>
<line x1="215.70" y1="148.37" x2="218.10" y2="148.37" stroke="#000" stroke-width="0.9"/>
<line x1="215.70" y1="158.19" x2="218.10" y2="158.19" stroke="#000" stroke-width="0.9"/>
<line x1="223.33" y1="163.10" x2="223.33" y2="165.50" stroke="#000" stroke-width="0.9"/>
<line x1="233.79" y1="163.10" x2="233.79" y2="165.50" stroke="#000" stroke-width="0.9"/>
<line x1="244.25" y1="163.10" x2="244.25" y2="165.50" stroke="#000" stroke-width="0.9"/>
<line x1="254.72" y1="163.10" x2="254.72" y2="165.50" stroke="#000" stroke-width="0.9"/>
<line x1="265.18" y1="163.10" x2="265.18" y2="165.50" stroke="#000" stroke-width="0.9"/>
<line x1="275.64" y1="163.10" x2="275.64" y2="165.50" stroke="#000" stroke-width="0.9"/>
<line x1="286.10" y1="163.10" x2="286.10" y2="165.50" stroke="#000" stroke-width="0.9"/>
<line x1="296.56" y1="163.10" x2="296.56" y2="165.50" stroke="#000" stroke-width="0.9"/>
<line x1="307.02" y1="163.10" x2="307.02" y2="165.50" stroke="#000" stroke-width="0.9"/>
<line x1="317.48" y1="163.10" x2="317.48" y2="165.50" stroke="#000" stroke-width="0.9"/>
<line x1="327.95" y1="163.10" x2="327.95" y2="165.50" stroke="#000" stroke-width="0.9"/>
<line x1="338.41" y1="163.10" x2="338.41" y2="165.50" stroke="#000" stroke-width="0.9"/>
<line x1="348.87" y1="163.10" x2="348.87" y2="165.50" stroke="#000" stroke-width="0.9"/>
<rect x="355.40" y="15.80" width="4.10" height="147.30" fill="url(#cb)" stroke="#444" stroke-width="0.5"/>
<line x1="359.50" y1="15.80" x2="361.30" y2="15.80" stroke="#000" stroke-width="0.9"/>
<line x1="359.50" y1="45.26" x2="361.30" y2="45.26" stroke="#000" stroke-width="0.9"/>
<line x1="359.50" y1="74.72" x2="361.30" y2="74.72" stroke="#000" stroke-width="0.9"/>
<line x1="359.50" y1="104.18" x2="361.30" y2="104.18" stroke="#000" stroke-width="0.9"/>
<line x1="359.50" y1="133.64" x2="361.30" y2="133.64" stroke="#000" stroke-width="0.9"/>
<line x1="359.50" y1="163.10" x2="361.30" y2="163.10" stroke="#000" stroke-width="0.9"/>
</g>
<g>
<g>
<rect x="383.70" y="15.80" width="11.46" height="10.82" fill="#888888"/>
<rect x="394.16" y="15.80" width="11.46" height="10.82" fill="#333333"/>
<rect x="404.62" y="15.80" width="11.46" height="10.82" fill="#777777"/>
<rect x="415.08" y="15.80" width="11.46" height="10.82" fill="#000000"/>
<rect x="425.55" y="15.80" width="11.46" height="10.82" fill="#666666"/>
<rect x="436.01" y="15.80" width="11.46" height="10.82" fill="#222222"/>
<rect x="446.47" y="15.80" width="11.46" height="10.82" fill="#555555"/>
<rect x="456.93" y="15.80" width="11.46" height="10.82" fill="#aaaaaa"/>
<rect x="467.39" y="15.80" width="11.46" height="10.82" fill="#222222"/>
<rect x="477.85" y="15.80" width="11.46" height="10.82" fill="#111111"/>
<rect x="488.32" y="15.80" width="11.46" height="10.82" fill="#444444"/>
<rect x="498.78" y="15.80" width="11.46" height="10.82" fill="#111111"/>
<rect x="509.24" y="15.80" width="10.46" height="10.82" fill="#777777"/>
<rect x="383.70" y="25.62" width="11.46" height="10.82" fill="#444444"/>
<rect x="394.16" y="25.62" width="11.46" height="10.82" fill="#111111"/>
<rect x="404.62" y="25.62" width="11.46" height="10.82" fill="#333333"/>
<rect x="415.08" y="25.62" width="11.46" height="10.82" fill="#222222"/>
<rect x="425.55" y="25.62" width="11.46" height="10.82" fill="#000000"/>
<rect x="436.01" y="25.62" width="11.46" height="10.82" fill="#000000"/>
<rect x="446.47" y="25.62" width="11.46" height="10.82" fill="#333333"/>
<rect x="456.93" y="25.62" width="11.46" height="10.82" fill="#909090"/>
<rect x="467.39" y="25.62" width="11.46" height="10.82" fill="#222222"/>
<rect x="477.85" y="25.62" width="11.46" height="10.82" fill="#222222"/>
<rect x="488.32" y="25.62" width="11.46" height="10.82" fill="#444444"/>
<rect x="498.78" y="25.62" width="11.46" height="10.82" fill="#999999"/>
<rect x="509.24" y="25.62" width="10.46" height="10.82" fill="#444444"/>
<rect x="383.70" y="35.44" width="11.46" height="10.82" fill="#f1c3b6"/>
<rect x="394.16" y="35.44" width="11.46" height="10.82" fill="#777777"/>
<rect x="404.62" y="35.44" width="11.46" height="10.82" fill="#ffffff"/>
<rect x="415.08" y="35.44" width="11.46" height="10.82" fill="#222222"/>
<rect x="425.55" y="35.44" width="11.46" height="10.82" fill="#999999"/>
<rect x="436.01" y="35.44" width="11.46" height="10.82" fill="#cccccc"/>
<rect x="446.47" y="35.44" width="11.46" height="10.82" fill="#f5d4cb"/>
<rect x="456.93" y="35.44" width="11.46" height="10.82" fill="#444444"/>
<rect x="467.39" y="35.44" width="11.46" height="10.82" fill="#333333"/>
<rect x="477.85" y="35.44" width="11.46" height="10.82" fill="#333333"/>
<rect x="488.32" y="35.44" width="11.46" height="10.82" fill="#999999"/>
<rect x="498.78" y="35.44" width="11.46" height="10.82" fill="#555555"/>
<rect x="509.24" y="35.44" width="10.46" height="10.82" fill="#444444"/>
<rect x="383.70" y="45.26" width="11.46" height="10.82" fill="#666666"/>
<rect x="394.16" y="45.26" width="11.46" height="10.82" fill="#444444"/>
<rect x="404.62" y="45.26" width="11.46" height="10.82" fill="#222222"/>
<rect x="415.08" y="45.26" width="11.46" height="10.82" fill="#111111"/>
<rect x="425.55" y="45.26" width="11.46" height="10.82" fill="#eeeeee"/>
<rect x="436.01" y="45.26" width="11.46" height="10.82" fill="#333333"/>
<rect x="446.47" y="45.26" width="11.46" height="10.82" fill="#222222"/>
<rect x="456.93" y="45.26" width="11.46" height="10.82" fill="#dddddd"/>
<rect x="467.39" y="45.26" width="11.46" height="10.82" fill="#333333"/>
<rect x="477.85" y="45.26" width="11.46" height="10.82" fill="#222222"/>
<rect x="488.32" y="45.26" width="11.46" height="10.82" fill="#666666"/>
<rect x="498.78" y="45.26" width="11.46" height="10.82" fill="#222222"/>
<rect x="509.24" y="45.26" width="10.46" height="10.82" fill="#666666"/>
<rect x="383.70" y="55.08" width="11.46" height="10.82" fill="#eca996"/>
<rect x="394.16" y="55.08" width="11.46" height="10.82" fill="#aaaaaa"/>
<rect x="404.62" y="55.08" width="11.46" height="10.82" fill="#f1c3b6"/>
<rect x="415.08" y="55.08" width="11.46" height="10.82" fill="#777777"/>
<rect x="425.55" y="55.08" width="11.46" height="10.82" fill="#f7ddd5"/>
<rect x="436.01" y="55.08" width="11.46" height="10.82" fill="#eeeeee"/>
<rect x="446.47" y="55.08" width="11.46" height="10.82" fill="#f7ddd5"/>
<rect x="456.93" y="55.08" width="11.46" height="10.82" fill="#f7ddd5"/>
<rect x="467.39" y="55.08" width="11.46" height="10.82" fill="#666666"/>
<rect x="477.85" y="55.08" width="11.46" height="10.82" fill="#666666"/>
<rect x="488.32" y="55.08" width="11.46" height="10.82" fill="#bbbbbb"/>
<rect x="498.78" y="55.08" width="11.46" height="10.82" fill="#999999"/>
<rect x="509.24" y="55.08" width="10.46" height="10.82" fill="#f9e5e0"/>
<rect x="383.70" y="64.90" width="11.46" height="10.82" fill="#999999"/>
<rect x="394.16" y="64.90" width="11.46" height="10.82" fill="#333333"/>
<rect x="404.62" y="64.90" width="11.46" height="10.82" fill="#777777"/>
<rect x="415.08" y="64.90" width="11.46" height="10.82" fill="#222222"/>
<rect x="425.55" y="64.90" width="11.46" height="10.82" fill="#444444"/>
<rect x="436.01" y="64.90" width="11.46" height="10.82" fill="#333333"/>
<rect x="446.47" y="64.90" width="11.46" height="10.82" fill="#555555"/>
<rect x="456.93" y="64.90" width="11.46" height="10.82" fill="#bbbbbb"/>
<rect x="467.39" y="64.90" width="11.46" height="10.82" fill="#222222"/>
<rect x="477.85" y="64.90" width="11.46" height="10.82" fill="#444444"/>
<rect x="488.32" y="64.90" width="11.46" height="10.82" fill="#333333"/>
<rect x="498.78" y="64.90" width="11.46" height="10.82" fill="#111111"/>
<rect x="509.24" y="64.90" width="10.46" height="10.82" fill="#444444"/>
<rect x="383.70" y="74.72" width="11.46" height="10.82" fill="#888888"/>
<rect x="394.16" y="74.72" width="11.46" height="10.82" fill="#000000"/>
<rect x="404.62" y="74.72" width="11.46" height="10.82" fill="#555555"/>
<rect x="415.08" y="74.72" width="11.46" height="10.82" fill="#333333"/>
<rect x="425.55" y="74.72" width="11.46" height="10.82" fill="#333333"/>
<rect x="436.01" y="74.72" width="11.46" height="10.82" fill="#222222"/>
<rect x="446.47" y="74.72" width="11.46" height="10.82" fill="#555555"/>
<rect x="456.93" y="74.72" width="11.46" height="10.82" fill="#bbbbbb"/>
<rect x="467.39" y="74.72" width="11.46" height="10.82" fill="#111111"/>
<rect x="477.85" y="74.72" width="11.46" height="10.82" fill="#222222"/>
<rect x="488.32" y="74.72" width="11.46" height="10.82" fill="#333333"/>
<rect x="498.78" y="74.72" width="11.46" height="10.82" fill="#888888"/>
<rect x="509.24" y="74.72" width="10.46" height="10.82" fill="#333333"/>
<rect x="383.70" y="84.54" width="11.46" height="10.82" fill="#f7ddd5"/>
<rect x="394.16" y="84.54" width="11.46" height="10.82" fill="#999999"/>
<rect x="404.62" y="84.54" width="11.46" height="10.82" fill="#ffffff"/>
<rect x="415.08" y="84.54" width="11.46" height="10.82" fill="#444444"/>
<rect x="425.55" y="84.54" width="11.46" height="10.82" fill="#bbbbbb"/>
<rect x="436.01" y="84.54" width="11.46" height="10.82" fill="#f5d4cb"/>
<rect x="446.47" y="84.54" width="11.46" height="10.82" fill="#f3cbc0"/>
<rect x="456.93" y="84.54" width="11.46" height="10.82" fill="#aaaaaa"/>
<rect x="467.39" y="84.54" width="11.46" height="10.82" fill="#222222"/>
<rect x="477.85" y="84.54" width="11.46" height="10.82" fill="#cccccc"/>
<rect x="488.32" y="84.54" width="11.46" height="10.82" fill="#f5d4cb"/>
<rect x="498.78" y="84.54" width="11.46" height="10.82" fill="#666666"/>
<rect x="509.24" y="84.54" width="10.46" height="10.82" fill="#aaaaaa"/>
<rect x="383.70" y="94.36" width="11.46" height="10.82" fill="#777777"/>
<rect x="394.16" y="94.36" width="11.46" height="10.82" fill="#000000"/>
<rect x="404.62" y="94.36" width="11.46" height="10.82" fill="#555555"/>
<rect x="415.08" y="94.36" width="11.46" height="10.82" fill="#444444"/>
<rect x="425.55" y="94.36" width="11.46" height="10.82" fill="#444444"/>
<rect x="436.01" y="94.36" width="11.46" height="10.82" fill="#aaaaaa"/>
<rect x="446.47" y="94.36" width="11.46" height="10.82" fill="#333333"/>
<rect x="456.93" y="94.36" width="11.46" height="10.82" fill="#f7ddd5"/>
<rect x="467.39" y="94.36" width="11.46" height="10.82" fill="#444444"/>
<rect x="477.85" y="94.36" width="11.46" height="10.82" fill="#222222"/>
<rect x="488.32" y="94.36" width="11.46" height="10.82" fill="#555555"/>
<rect x="498.78" y="94.36" width="11.46" height="10.82" fill="#111111"/>
<rect x="509.24" y="94.36" width="10.46" height="10.82" fill="#444444"/>
<rect x="383.70" y="104.18" width="11.46" height="10.82" fill="#fbeeea"/>
<rect x="394.16" y="104.18" width="11.46" height="10.82" fill="#ffffff"/>
<rect x="404.62" y="104.18" width="11.46" height="10.82" fill="#e4876d"/>
<rect x="415.08" y="104.18" width="11.46" height="10.82" fill="#ffffff"/>
<rect x="425.55" y="104.18" width="11.46" height="10.82" fill="#edb2a1"/>
<rect x="436.01" y="104.18" width="11.46" height="10.82" fill="#cccccc"/>
<rect x="446.47" y="104.18" width="11.46" height="10.82" fill="#e07558"/>
<rect x="456.93" y="104.18" width="11.46" height="10.82" fill="#de6d4d"/>
<rect x="467.39" y="104.18" width="11.46" height="10.82" fill="#aaaaaa"/>
<rect x="477.85" y="104.18" width="11.46" height="10.82" fill="#cccccc"/>
<rect x="488.32" y="104.18" width="11.46" height="10.82" fill="#eaa08c"/>
<rect x="498.78" y="104.18" width="11.46" height="10.82" fill="#eeeeee"/>
<rect x="509.24" y="104.18" width="10.46" height="10.82" fill="#dddddd"/>
<rect x="383.70" y="114.00" width="11.46" height="10.82" fill="#999999"/>
<rect x="394.16" y="114.00" width="11.46" height="10.82" fill="#222222"/>
<rect x="404.62" y="114.00" width="11.46" height="10.82" fill="#333333"/>
<rect x="415.08" y="114.00" width="11.46" height="10.82" fill="#555555"/>
<rect x="425.55" y="114.00" width="11.46" height="10.82" fill="#888888"/>
<rect x="436.01" y="114.00" width="11.46" height="10.82" fill="#555555"/>
<rect x="446.47" y="114.00" width="11.46" height="10.82" fill="#777777"/>
<rect x="456.93" y="114.00" width="11.46" height="10.82" fill="#444444"/>
<rect x="467.39" y="114.00" width="11.46" height="10.82" fill="#666666"/>
<rect x="477.85" y="114.00" width="11.46" height="10.82" fill="#333333"/>
<rect x="488.32" y="114.00" width="11.46" height="10.82" fill="#666666"/>
<rect x="498.78" y="114.00" width="11.46" height="10.82" fill="#111111"/>
<rect x="509.24" y="114.00" width="10.46" height="10.82" fill="#777777"/>
<rect x="383.70" y="123.82" width="11.46" height="10.82" fill="#888888"/>
<rect x="394.16" y="123.82" width="11.46" height="10.82" fill="#f7ddd5"/>
<rect x="404.62" y="123.82" width="11.46" height="10.82" fill="#e68f77"/>
<rect x="415.08" y="123.82" width="11.46" height="10.82" fill="#f3cbc0"/>
<rect x="425.55" y="123.82" width="11.46" height="10.82" fill="#edb2a1"/>
<rect x="436.01" y="123.82" width="11.46" height="10.82" fill="#d8532e"/>
<rect x="446.47" y="123.82" width="11.46" height="10.82" fill="#888888"/>
<rect x="456.93" y="123.82" width="11.46" height="10.82" fill="#f5d4cb"/>
<rect x="467.39" y="123.82" width="11.46" height="10.82" fill="#cccccc"/>
<rect x="477.85" y="123.82" width="11.46" height="10.82" fill="#f9e5e0"/>
<rect x="488.32" y="123.82" width="11.46" height="10.82" fill="#e07558"/>
<rect x="498.78" y="123.82" width="11.46" height="10.82" fill="#bbbbbb"/>
<rect x="509.24" y="123.82" width="10.46" height="10.82" fill="#aaaaaa"/>
<rect x="383.70" y="133.64" width="11.46" height="10.82" fill="#444444"/>
<rect x="394.16" y="133.64" width="11.46" height="10.82" fill="#777777"/>
<rect x="404.62" y="133.64" width="11.46" height="10.82" fill="#888888"/>
<rect x="415.08" y="133.64" width="11.46" height="10.82" fill="#333333"/>
<rect x="425.55" y="133.64" width="11.46" height="10.82" fill="#333333"/>
<rect x="436.01" y="133.64" width="11.46" height="10.82" fill="#cccccc"/>
<rect x="446.47" y="133.64" width="11.46" height="10.82" fill="#aaaaaa"/>
<rect x="456.93" y="133.64" width="11.46" height="10.82" fill="#888888"/>
<rect x="467.39" y="133.64" width="11.46" height="10.82" fill="#666666"/>
<rect x="477.85" y="133.64" width="11.46" height="10.82" fill="#888888"/>
<rect x="488.32" y="133.64" width="11.46" height="10.82" fill="#888888"/>
<rect x="498.78" y="133.64" width="11.46" height="10.82" fill="#777777"/>
<rect x="509.24" y="133.64" width="10.46" height="10.82" fill="#777777"/>
<rect x="383.70" y="143.46" width="11.46" height="10.82" fill="#aaaaaa"/>
<rect x="394.16" y="143.46" width="11.46" height="10.82" fill="#666666"/>
<rect x="404.62" y="143.46" width="11.46" height="10.82" fill="#aaaaaa"/>
<rect x="415.08" y="143.46" width="11.46" height="10.82" fill="#777777"/>
<rect x="425.55" y="143.46" width="11.46" height="10.82" fill="#cccccc"/>
<rect x="436.01" y="143.46" width="11.46" height="10.82" fill="#dddddd"/>
<rect x="446.47" y="143.46" width="11.46" height="10.82" fill="#888888"/>
<rect x="456.93" y="143.46" width="11.46" height="10.82" fill="#cccccc"/>
<rect x="467.39" y="143.46" width="11.46" height="10.82" fill="#909090"/>
<rect x="477.85" y="143.46" width="11.46" height="10.82" fill="#777777"/>
<rect x="488.32" y="143.46" width="11.46" height="10.82" fill="#aaaaaa"/>
<rect x="498.78" y="143.46" width="11.46" height="10.82" fill="#111111"/>
<rect x="509.24" y="143.46" width="10.46" height="10.82" fill="#777777"/>
<rect x="383.70" y="153.28" width="11.46" height="9.82" fill="#eeeeee"/>
<rect x="394.16" y="153.28" width="11.46" height="9.82" fill="#f9e5e0"/>
<rect x="404.62" y="153.28" width="11.46" height="9.82" fill="#dc6443"/>
<rect x="415.08" y="153.28" width="11.46" height="9.82" fill="#ffffff"/>
<rect x="425.55" y="153.28" width="11.46" height="9.82" fill="#edb2a1"/>
<rect x="436.01" y="153.28" width="11.46" height="9.82" fill="#e89882"/>
<rect x="446.47" y="153.28" width="11.46" height="9.82" fill="#e4876d"/>
<rect x="456.93" y="153.28" width="11.46" height="9.82" fill="#e27e62"/>
<rect x="467.39" y="153.28" width="11.46" height="9.82" fill="#f1c3b6"/>
<rect x="477.85" y="153.28" width="11.46" height="9.82" fill="#e4876d"/>
<rect x="488.32" y="153.28" width="11.46" height="9.82" fill="#d8532e"/>
<rect x="498.78" y="153.28" width="11.46" height="9.82" fill="#f3cbc0"/>
<rect x="509.24" y="153.28" width="10.46" height="9.82" fill="#e4876d"/>
</g>
<rect x="384.00" y="16.10" width="135.40" height="146.70" fill="none" stroke="#000" stroke-width="0.6"/>
<line x1="381.30" y1="20.71" x2="383.70" y2="20.71" stroke="#000" stroke-width="0.9"/>
<line x1="381.30" y1="30.53" x2="383.70" y2="30.53" stroke="#000" stroke-width="0.9"/>
<line x1="381.30" y1="40.35" x2="383.70" y2="40.35" stroke="#000" stroke-width="0.9"/>
<line x1="381.30" y1="50.17" x2="383.70" y2="50.17" stroke="#000" stroke-width="0.9"/>
<line x1="381.30" y1="59.99" x2="383.70" y2="59.99" stroke="#000" stroke-width="0.9"/>
<line x1="381.30" y1="69.81" x2="383.70" y2="69.81" stroke="#000" stroke-width="0.9"/>
<line x1="381.30" y1="79.63" x2="383.70" y2="79.63" stroke="#000" stroke-width="0.9"/>
<line x1="381.30" y1="89.45" x2="383.70" y2="89.45" stroke="#000" stroke-width="0.9"/>
<line x1="381.30" y1="99.27" x2="383.70" y2="99.27" stroke="#000" stroke-width="0.9"/>
<line x1="381.30" y1="109.09" x2="383.70" y2="109.09" stroke="#000" stroke-width="0.9"/>
<line x1="381.30" y1="118.91" x2="383.70" y2="118.91" stroke="#000" stroke-width="0.9"/>
<line x1="381.30" y1="128.73" x2="383.70" y2="128.73" stroke="#000" stroke-width="0.9"/>
<line x1="381.30" y1="138.55" x2="383.70" y2="138.55" stroke="#000" stroke-width="0.9"/>
<line x1="381.30" y1="148.37" x2="383.70" y2="148.37" stroke="#000" stroke-width="0.9"/>
<line x1="381.30" y1="158.19" x2="383.70" y2="158.19" stroke="#000" stroke-width="0.9"/>
<line x1="388.93" y1="163.10" x2="388.93" y2="165.50" stroke="#000" stroke-width="0.9"/>
<line x1="399.39" y1="163.10" x2="399.39" y2="165.50" stroke="#000" stroke-width="0.9"/>
<line x1="409.85" y1="163.10" x2="409.85" y2="165.50" stroke="#000" stroke-width="0.9"/>
<line x1="420.32" y1="163.10" x2="420.32" y2="165.50" stroke="#000" stroke-width="0.9"/>
<line x1="430.78" y1="163.10" x2="430.78" y2="165.50" stroke="#000" stroke-width="0.9"/>
<line x1="441.24" y1="163.10" x2="441.24" y2="165.50" stroke="#000" stroke-width="0.9"/>
<line x1="451.70" y1="163.10" x2="451.70" y2="165.50" stroke="#000" stroke-width="0.9"/>
<line x1="462.16" y1="163.10" x2="462.16" y2="165.50" stroke="#000" stroke-width="0.9"/>
<line x1="472.62" y1="163.10" x2="472.62" y2="165.50" stroke="#000" stroke-width="0.9"/>
<line x1="483.08" y1="163.10" x2="483.08" y2="165.50" stroke="#000" stroke-width="0.9"/>
<line x1="493.55" y1="163.10" x2="493.55" y2="165.50" stroke="#000" stroke-width="0.9"/>
<line x1="504.01" y1="163.10" x2="504.01" y2="165.50" stroke="#000" stroke-width="0.9"/>
<line x1="514.47" y1="163.10" x2="514.47" y2="165.50" stroke="#000" stroke-width="0.9"/>
<rect x="521.00" y="15.80" width="4.10" height="147.30" fill="url(#cb)" stroke="#444" stroke-width="0.5"/>
<line x1="525.10" y1="15.80" x2="526.90" y2="15.80" stroke="#000" stroke-width="0.9"/>
<line x1="525.10" y1="45.26" x2="526.90" y2="45.26" stroke="#000" stroke-width="0.9"/>
<line x1="525.10" y1="74.72" x2="526.90" y2="74.72" stroke="#000" stroke-width="0.9"/>
<line x1="525.10" y1="104.18" x2="526.90" y2="104.18" stroke="#000" stroke-width="0.9"/>
<line x1="525.10" y1="133.64" x2="526.90" y2="133.64" stroke="#000" stroke-width="0.9"/>
<line x1="525.10" y1="163.10" x2="526.90" y2="163.10" stroke="#000" stroke-width="0.9"/>
</g>
<g>
<g>
<rect x="52.50" y="189.90" width="11.46" height="10.82" fill="#555555"/>
<rect x="62.96" y="189.90" width="11.46" height="10.82" fill="#444444"/>
<rect x="73.42" y="189.90" width="11.46" height="10.82" fill="#333333"/>
<rect x="83.88" y="189.90" width="11.46" height="10.82" fill="#222222"/>
<rect x="94.35" y="189.90" width="11.46" height="10.82" fill="#444444"/>
<rect x="104.81" y="189.90" width="11.46" height="10.82" fill="#444444"/>
<rect x="115.27" y="189.90" width="11.46" height="10.82" fill="#333333"/>
<rect x="125.73" y="189.90" width="11.46" height="10.82" fill="#999999"/>
<rect x="136.19" y="189.90" width="11.46" height="10.82" fill="#111111"/>
<rect x="146.65" y="189.90" width="11.46" height="10.82" fill="#333333"/>
<rect x="157.12" y="189.90" width="11.46" height="10.82" fill="#444444"/>
<rect x="167.58" y="189.90" width="11.46" height="10.82" fill="#000000"/>
<rect x="178.04" y="189.90" width="10.46" height="10.82" fill="#555555"/>
<rect x="52.50" y="199.72" width="11.46" height="10.82" fill="#555555"/>
<rect x="62.96" y="199.72" width="11.46" height="10.82" fill="#444444"/>
<rect x="73.42" y="199.72" width="11.46" height="10.82" fill="#444444"/>
<rect x="83.88" y="199.72" width="11.46" height="10.82" fill="#bbbbbb"/>
<rect x="94.35" y="199.72" width="11.46" height="10.82" fill="#222222"/>
<rect x="104.81" y="199.72" width="11.46" height="10.82" fill="#333333"/>
<rect x="115.27" y="199.72" width="11.46" height="10.82" fill="#666666"/>
<rect x="125.73" y="199.72" width="11.46" height="10.82" fill="#aaaaaa"/>
<rect x="136.19" y="199.72" width="11.46" height="10.82" fill="#555555"/>
<rect x="146.65" y="199.72" width="11.46" height="10.82" fill="#888888"/>
<rect x="157.12" y="199.72" width="11.46" height="10.82" fill="#999999"/>
<rect x="167.58" y="199.72" width="11.46" height="10.82" fill="#999999"/>
<rect x="178.04" y="199.72" width="10.46" height="10.82" fill="#666666"/>
<rect x="52.50" y="209.54" width="11.46" height="10.82" fill="#444444"/>
<rect x="62.96" y="209.54" width="11.46" height="10.82" fill="#cccccc"/>
<rect x="73.42" y="209.54" width="11.46" height="10.82" fill="#999999"/>
<rect x="83.88" y="209.54" width="11.46" height="10.82" fill="#777777"/>
<rect x="94.35" y="209.54" width="11.46" height="10.82" fill="#aaaaaa"/>
<rect x="104.81" y="209.54" width="11.46" height="10.82" fill="#eeeeee"/>
<rect x="115.27" y="209.54" width="11.46" height="10.82" fill="#777777"/>
<rect x="125.73" y="209.54" width="11.46" height="10.82" fill="#888888"/>
<rect x="136.19" y="209.54" width="11.46" height="10.82" fill="#555555"/>
<rect x="146.65" y="209.54" width="11.46" height="10.82" fill="#aaaaaa"/>
<rect x="157.12" y="209.54" width="11.46" height="10.82" fill="#666666"/>
<rect x="167.58" y="209.54" width="11.46" height="10.82" fill="#666666"/>
<rect x="178.04" y="209.54" width="10.46" height="10.82" fill="#666666"/>
<rect x="52.50" y="219.36" width="11.46" height="10.82" fill="#111111"/>
<rect x="62.96" y="219.36" width="11.46" height="10.82" fill="#222222"/>
<rect x="73.42" y="219.36" width="11.46" height="10.82" fill="#000000"/>
<rect x="83.88" y="219.36" width="11.46" height="10.82" fill="#111111"/>
<rect x="94.35" y="219.36" width="11.46" height="10.82" fill="#777777"/>
<rect x="104.81" y="219.36" width="11.46" height="10.82" fill="#222222"/>
<rect x="115.27" y="219.36" width="11.46" height="10.82" fill="#111111"/>
<rect x="125.73" y="219.36" width="11.46" height="10.82" fill="#999999"/>
<rect x="136.19" y="219.36" width="11.46" height="10.82" fill="#555555"/>
<rect x="146.65" y="219.36" width="11.46" height="10.82" fill="#222222"/>
<rect x="157.12" y="219.36" width="11.46" height="10.82" fill="#333333"/>
<rect x="167.58" y="219.36" width="11.46" height="10.82" fill="#111111"/>
<rect x="178.04" y="219.36" width="10.46" height="10.82" fill="#555555"/>
<rect x="52.50" y="229.18" width="11.46" height="10.82" fill="#888888"/>
<rect x="62.96" y="229.18" width="11.46" height="10.82" fill="#999999"/>
<rect x="73.42" y="229.18" width="11.46" height="10.82" fill="#bbbbbb"/>
<rect x="83.88" y="229.18" width="11.46" height="10.82" fill="#666666"/>
<rect x="94.35" y="229.18" width="11.46" height="10.82" fill="#777777"/>
<rect x="104.81" y="229.18" width="11.46" height="10.82" fill="#888888"/>
<rect x="115.27" y="229.18" width="11.46" height="10.82" fill="#888888"/>
<rect x="125.73" y="229.18" width="11.46" height="10.82" fill="#ffffff"/>
<rect x="136.19" y="229.18" width="11.46" height="10.82" fill="#777777"/>
<rect x="146.65" y="229.18" width="11.46" height="10.82" fill="#777777"/>
<rect x="157.12" y="229.18" width="11.46" height="10.82" fill="#888888"/>
<rect x="167.58" y="229.18" width="11.46" height="10.82" fill="#333333"/>
<rect x="178.04" y="229.18" width="10.46" height="10.82" fill="#aaaaaa"/>
<rect x="52.50" y="239.00" width="11.46" height="10.82" fill="#555555"/>
<rect x="62.96" y="239.00" width="11.46" height="10.82" fill="#444444"/>
<rect x="73.42" y="239.00" width="11.46" height="10.82" fill="#444444"/>
<rect x="83.88" y="239.00" width="11.46" height="10.82" fill="#222222"/>
<rect x="94.35" y="239.00" width="11.46" height="10.82" fill="#333333"/>
<rect x="104.81" y="239.00" width="11.46" height="10.82" fill="#555555"/>
<rect x="115.27" y="239.00" width="11.46" height="10.82" fill="#666666"/>
<rect x="125.73" y="239.00" width="11.46" height="10.82" fill="#aaaaaa"/>
<rect x="136.19" y="239.00" width="11.46" height="10.82" fill="#333333"/>
<rect x="146.65" y="239.00" width="11.46" height="10.82" fill="#999999"/>
<rect x="157.12" y="239.00" width="11.46" height="10.82" fill="#444444"/>
<rect x="167.58" y="239.00" width="11.46" height="10.82" fill="#111111"/>
<rect x="178.04" y="239.00" width="10.46" height="10.82" fill="#222222"/>
<rect x="52.50" y="248.82" width="11.46" height="10.82" fill="#666666"/>
<rect x="62.96" y="248.82" width="11.46" height="10.82" fill="#333333"/>
<rect x="73.42" y="248.82" width="11.46" height="10.82" fill="#555555"/>
<rect x="83.88" y="248.82" width="11.46" height="10.82" fill="#dddddd"/>
<rect x="94.35" y="248.82" width="11.46" height="10.82" fill="#444444"/>
<rect x="104.81" y="248.82" width="11.46" height="10.82" fill="#555555"/>
<rect x="115.27" y="248.82" width="11.46" height="10.82" fill="#666666"/>
<rect x="125.73" y="248.82" width="11.46" height="10.82" fill="#999999"/>
<rect x="136.19" y="248.82" width="11.46" height="10.82" fill="#444444"/>
<rect x="146.65" y="248.82" width="11.46" height="10.82" fill="#777777"/>
<rect x="157.12" y="248.82" width="11.46" height="10.82" fill="#444444"/>
<rect x="167.58" y="248.82" width="11.46" height="10.82" fill="#aaaaaa"/>
<rect x="178.04" y="248.82" width="10.46" height="10.82" fill="#222222"/>
<rect x="52.50" y="258.64" width="11.46" height="10.82" fill="#444444"/>
<rect x="62.96" y="258.64" width="11.46" height="10.82" fill="#dddddd"/>
<rect x="73.42" y="258.64" width="11.46" height="10.82" fill="#777777"/>
<rect x="83.88" y="258.64" width="11.46" height="10.82" fill="#777777"/>
<rect x="94.35" y="258.64" width="11.46" height="10.82" fill="#cccccc"/>
<rect x="104.81" y="258.64" width="11.46" height="10.82" fill="#cccccc"/>
<rect x="115.27" y="258.64" width="11.46" height="10.82" fill="#666666"/>
<rect x="125.73" y="258.64" width="11.46" height="10.82" fill="#333333"/>
<rect x="136.19" y="258.64" width="11.46" height="10.82" fill="#333333"/>
<rect x="146.65" y="258.64" width="11.46" height="10.82" fill="#bbbbbb"/>
<rect x="157.12" y="258.64" width="11.46" height="10.82" fill="#888888"/>
<rect x="167.58" y="258.64" width="11.46" height="10.82" fill="#222222"/>
<rect x="178.04" y="258.64" width="10.46" height="10.82" fill="#222222"/>
<rect x="52.50" y="268.46" width="11.46" height="10.82" fill="#444444"/>
<rect x="62.96" y="268.46" width="11.46" height="10.82" fill="#000000"/>
<rect x="73.42" y="268.46" width="11.46" height="10.82" fill="#444444"/>
<rect x="83.88" y="268.46" width="11.46" height="10.82" fill="#555555"/>
<rect x="94.35" y="268.46" width="11.46" height="10.82" fill="#555555"/>
<rect x="104.81" y="268.46" width="11.46" height="10.82" fill="#777777"/>
<rect x="115.27" y="268.46" width="11.46" height="10.82" fill="#777777"/>
<rect x="125.73" y="268.46" width="11.46" height="10.82" fill="#555555"/>
<rect x="136.19" y="268.46" width="11.46" height="10.82" fill="#666666"/>
<rect x="146.65" y="268.46" width="11.46" height="10.82" fill="#666666"/>
<rect x="157.12" y="268.46" width="11.46" height="10.82" fill="#666666"/>
<rect x="167.58" y="268.46" width="11.46" height="10.82" fill="#333333"/>
<rect x="178.04" y="268.46" width="10.46" height="10.82" fill="#666666"/>
<rect x="52.50" y="278.28" width="11.46" height="10.82" fill="#555555"/>
<rect x="62.96" y="278.28" width="11.46" height="10.82" fill="#dddddd"/>
<rect x="73.42" y="278.28" width="11.46" height="10.82" fill="#aaaaaa"/>
<rect x="83.88" y="278.28" width="11.46" height="10.82" fill="#444444"/>
<rect x="94.35" y="278.28" width="11.46" height="10.82" fill="#333333"/>
<rect x="104.81" y="278.28" width="11.46" height="10.82" fill="#555555"/>
<rect x="115.27" y="278.28" width="11.46" height="10.82" fill="#bbbbbb"/>
<rect x="125.73" y="278.28" width="11.46" height="10.82" fill="#edb2a1"/>
<rect x="136.19" y="278.28" width="11.46" height="10.82" fill="#bbbbbb"/>
<rect x="146.65" y="278.28" width="11.46" height="10.82" fill="#999999"/>
<rect x="157.12" y="278.28" width="11.46" height="10.82" fill="#666666"/>
<rect x="167.58" y="278.28" width="11.46" height="10.82" fill="#666666"/>
<rect x="178.04" y="278.28" width="10.46" height="10.82" fill="#aaaaaa"/>
<rect x="52.50" y="288.10" width="11.46" height="10.82" fill="#bbbbbb"/>
<rect x="62.96" y="288.10" width="11.46" height="10.82" fill="#333333"/>
<rect x="73.42" y="288.10" width="11.46" height="10.82" fill="#777777"/>
<rect x="83.88" y="288.10" width="11.46" height="10.82" fill="#bbbbbb"/>
<rect x="94.35" y="288.10" width="11.46" height="10.82" fill="#aaaaaa"/>
<rect x="104.81" y="288.10" width="11.46" height="10.82" fill="#333333"/>
<rect x="115.27" y="288.10" width="11.46" height="10.82" fill="#999999"/>
<rect x="125.73" y="288.10" width="11.46" height="10.82" fill="#999999"/>
<rect x="136.19" y="288.10" width="11.46" height="10.82" fill="#777777"/>
<rect x="146.65" y="288.10" width="11.46" height="10.82" fill="#444444"/>
<rect x="157.12" y="288.10" width="11.46" height="10.82" fill="#666666"/>
<rect x="167.58" y="288.10" width="11.46" height="10.82" fill="#222222"/>
<rect x="178.04" y="288.10" width="10.46" height="10.82" fill="#777777"/>
<rect x="52.50" y="297.92" width="11.46" height="10.82" fill="#555555"/>
<rect x="62.96" y="297.92" width="11.46" height="10.82" fill="#bbbbbb"/>
<rect x="73.42" y="297.92" width="11.46" height="10.82" fill="#efbaab"/>
<rect x="83.88" y="297.92" width="11.46" height="10.82" fill="#f9e5e0"/>
<rect x="94.35" y="297.92" width="11.46" height="10.82" fill="#f7ddd5"/>
<rect x="104.81" y="297.92" width="11.46" height="10.82" fill="#eaa08c"/>
<rect x="115.27" y="297.92" width="11.46" height="10.82" fill="#444444"/>
<rect x="125.73" y="297.92" width="11.46" height="10.82" fill="#cccccc"/>
<rect x="136.19" y="297.92" width="11.46" height="10.82" fill="#aaaaaa"/>
<rect x="146.65" y="297.92" width="11.46" height="10.82" fill="#eeeeee"/>
<rect x="157.12" y="297.92" width="11.46" height="10.82" fill="#d8532e"/>
<rect x="167.58" y="297.92" width="11.46" height="10.82" fill="#bbbbbb"/>
<rect x="178.04" y="297.92" width="10.46" height="10.82" fill="#bbbbbb"/>
<rect x="52.50" y="307.74" width="11.46" height="10.82" fill="#444444"/>
<rect x="62.96" y="307.74" width="11.46" height="10.82" fill="#888888"/>
<rect x="73.42" y="307.74" width="11.46" height="10.82" fill="#bbbbbb"/>
<rect x="83.88" y="307.74" width="11.46" height="10.82" fill="#666666"/>
<rect x="94.35" y="307.74" width="11.46" height="10.82" fill="#222222"/>
<rect x="104.81" y="307.74" width="11.46" height="10.82" fill="#eeeeee"/>
<rect x="115.27" y="307.74" width="11.46" height="10.82" fill="#eeeeee"/>
<rect x="125.73" y="307.74" width="11.46" height="10.82" fill="#aaaaaa"/>
<rect x="136.19" y="307.74" width="11.46" height="10.82" fill="#777777"/>
<rect x="146.65" y="307.74" width="11.46" height="10.82" fill="#cccccc"/>
<rect x="157.12" y="307.74" width="11.46" height="10.82" fill="#aaaaaa"/>
<rect x="167.58" y="307.74" width="11.46" height="10.82" fill="#999999"/>
<rect x="178.04" y="307.74" width="10.46" height="10.82" fill="#555555"/>
<rect x="52.50" y="317.56" width="11.46" height="10.82" fill="#cccccc"/>
<rect x="62.96" y="317.56" width="11.46" height="10.82" fill="#444444"/>
<rect x="73.42" y="317.56" width="11.46" height="10.82" fill="#999999"/>
<rect x="83.88" y="317.56" width="11.46" height="10.82" fill="#777777"/>
<rect x="94.35" y="317.56" width="11.46" height="10.82" fill="#999999"/>
<rect x="104.81" y="317.56" width="11.46" height="10.82" fill="#999999"/>
<rect x="115.27" y="317.56" width="11.46" height="10.82" fill="#aaaaaa"/>
<rect x="125.73" y="317.56" width="11.46" height="10.82" fill="#bbbbbb"/>
<rect x="136.19" y="317.56" width="11.46" height="10.82" fill="#999999"/>
<rect x="146.65" y="317.56" width="11.46" height="10.82" fill="#888888"/>
<rect x="157.12" y="317.56" width="11.46" height="10.82" fill="#aaaaaa"/>
<rect x="167.58" y="317.56" width="11.46" height="10.82" fill="#444444"/>
<rect x="178.04" y="317.56" width="10.46" height="10.82" fill="#666666"/>
<rect x="52.50" y="327.38" width="11.46" height="9.82" fill="#dddddd"/>
<rect x="62.96" y="327.38" width="11.46" height="9.82" fill="#999999"/>
<rect x="73.42" y="327.38" width="11.46" height="9.82" fill="#f5d4cb"/>
<rect x="83.88" y="327.38" width="11.46" height="9.82" fill="#aaaaaa"/>
<rect x="94.35" y="327.38" width="11.46" height="9.82" fill="#fcf3f0"/>
<rect x="104.81" y="327.38" width="11.46" height="9.82" fill="#f7ddd5"/>
<rect x="115.27" y="327.38" width="11.46" height="9.82" fill="#ffffff"/>
<rect x="125.73" y="327.38" width="11.46" height="9.82" fill="#fbeeea"/>
<rect x="136.19" y="327.38" width="11.46" height="9.82" fill="#fcf3f0"/>
<rect x="146.65" y="327.38" width="11.46" height="9.82" fill="#f5d4cb"/>
<rect x="157.12" y="327.38" width="11.46" height="9.82" fill="#e27e62"/>
<rect x="167.58" y="327.38" width="11.46" height="9.82" fill="#cccccc"/>
<rect x="178.04" y="327.38" width="10.46" height="9.82" fill="#edb2a1"/>
</g>
<rect x="52.80" y="190.20" width="135.40" height="146.70" fill="none" stroke="#000" stroke-width="0.6"/>
<line x1="50.10" y1="194.81" x2="52.50" y2="194.81" stroke="#000" stroke-width="0.9"/>
<line x1="50.10" y1="204.63" x2="52.50" y2="204.63" stroke="#000" stroke-width="0.9"/>
<line x1="50.10" y1="214.45" x2="52.50" y2="214.45" stroke="#000" stroke-width="0.9"/>
<line x1="50.10" y1="224.27" x2="52.50" y2="224.27" stroke="#000" stroke-width="0.9"/>
<line x1="50.10" y1="234.09" x2="52.50" y2="234.09" stroke="#000" stroke-width="0.9"/>
<line x1="50.10" y1="243.91" x2="52.50" y2="243.91" stroke="#000" stroke-width="0.9"/>
<line x1="50.10" y1="253.73" x2="52.50" y2="253.73" stroke="#000" stroke-width="0.9"/>
<line x1="50.10" y1="263.55" x2="52.50" y2="263.55" stroke="#000" stroke-width="0.9"/>
<line x1="50.10" y1="273.37" x2="52.50" y2="273.37" stroke="#000" stroke-width="0.9"/>
<line x1="50.10" y1="283.19" x2="52.50" y2="283.19" stroke="#000" stroke-width="0.9"/>
<line x1="50.10" y1="293.01" x2="52.50" y2="293.01" stroke="#000" stroke-width="0.9"/>
<line x1="50.10" y1="302.83" x2="52.50" y2="302.83" stroke="#000" stroke-width="0.9"/>
<line x1="50.10" y1="312.65" x2="52.50" y2="312.65" stroke="#000" stroke-width="0.9"/>
<line x1="50.10" y1="322.47" x2="52.50" y2="322.47" stroke="#000" stroke-width="0.9"/>
<line x1="50.10" y1="332.29" x2="52.50" y2="332.29" stroke="#000" stroke-width="0.9"/>
<line x1="57.73" y1="337.20" x2="57.73" y2="339.60" stroke="#000" stroke-width="0.9"/>
<line x1="68.19" y1="337.20" x2="68.19" y2="339.60" stroke="#000" stroke-width="0.9"/>
<line x1="78.65" y1="337.20" x2="78.65" y2="339.60" stroke="#000" stroke-width="0.9"/>
<line x1="89.12" y1="337.20" x2="89.12" y2="339.60" stroke="#000" stroke-width="0.9"/>
<line x1="99.58" y1="337.20" x2="99.58" y2="339.60" stroke="#000" stroke-width="0.9"/>
<line x1="110.04" y1="337.20" x2="110.04" y2="339.60" stroke="#000" stroke-width="0.9"/>
<line x1="120.50" y1="337.20" x2="120.50" y2="339.60" stroke="#000" stroke-width="0.9"/>
<line x1="130.96" y1="337.20" x2="130.96" y2="339.60" stroke="#000" stroke-width="0.9"/>
<line x1="141.42" y1="337.20" x2="141.42" y2="339.60" stroke="#000" stroke-width="0.9"/>
<line x1="151.88" y1="337.20" x2="151.88" y2="339.60" stroke="#000" stroke-width="0.9"/>
<line x1="162.35" y1="337.20" x2="162.35" y2="339.60" stroke="#000" stroke-width="0.9"/>
<line x1="172.81" y1="337.20" x2="172.81" y2="339.60" stroke="#000" stroke-width="0.9"/>
<line x1="183.27" y1="337.20" x2="183.27" y2="339.60" stroke="#000" stroke-width="0.9"/>
<rect x="189.80" y="189.90" width="4.10" height="147.30" fill="url(#cb)" stroke="#444" stroke-width="0.5"/>
<line x1="193.90" y1="189.90" x2="195.70" y2="189.90" stroke="#000" stroke-width="0.9"/>
<line x1="193.90" y1="219.36" x2="195.70" y2="219.36" stroke="#000" stroke-width="0.9"/>
<line x1="193.90" y1="248.82" x2="195.70" y2="248.82" stroke="#000" stroke-width="0.9"/>
<line x1="193.90" y1="278.28" x2="195.70" y2="278.28" stroke="#000" stroke-width="0.9"/>
<line x1="193.90" y1="307.74" x2="195.70" y2="307.74" stroke="#000" stroke-width="0.9"/>
<line x1="193.90" y1="337.20" x2="195.70" y2="337.20" stroke="#000" stroke-width="0.9"/>
</g>
<g>
<g>
<rect x="218.10" y="189.90" width="11.46" height="10.82" fill="#000000"/>
<rect x="228.56" y="189.90" width="11.46" height="10.82" fill="#000000"/>
<rect x="239.02" y="189.90" width="11.46" height="10.82" fill="#000000"/>
<rect x="249.48" y="189.90" width="11.46" height="10.82" fill="#000000"/>
<rect x="259.95" y="189.90" width="11.46" height="10.82" fill="#000000"/>
<rect x="270.41" y="189.90" width="11.46" height="10.82" fill="#000000"/>
<rect x="280.87" y="189.90" width="11.46" height="10.82" fill="#000000"/>
<rect x="291.33" y="189.90" width="11.46" height="10.82" fill="#000000"/>
<rect x="301.79" y="189.90" width="11.46" height="10.82" fill="#000000"/>
<rect x="312.25" y="189.90" width="11.46" height="10.82" fill="#000000"/>
<rect x="322.72" y="189.90" width="11.46" height="10.82" fill="#000000"/>
<rect x="333.18" y="189.90" width="11.46" height="10.82" fill="#000000"/>
<rect x="343.64" y="189.90" width="10.46" height="10.82" fill="#000000"/>
<rect x="218.10" y="199.72" width="11.46" height="10.82" fill="#000000"/>
<rect x="228.56" y="199.72" width="11.46" height="10.82" fill="#000000"/>
<rect x="239.02" y="199.72" width="11.46" height="10.82" fill="#000000"/>
<rect x="249.48" y="199.72" width="11.46" height="10.82" fill="#000000"/>
<rect x="259.95" y="199.72" width="11.46" height="10.82" fill="#000000"/>
<rect x="270.41" y="199.72" width="11.46" height="10.82" fill="#000000"/>
<rect x="280.87" y="199.72" width="11.46" height="10.82" fill="#000000"/>
<rect x="291.33" y="199.72" width="11.46" height="10.82" fill="#000000"/>
<rect x="301.79" y="199.72" width="11.46" height="10.82" fill="#000000"/>
<rect x="312.25" y="199.72" width="11.46" height="10.82" fill="#000000"/>
<rect x="322.72" y="199.72" width="11.46" height="10.82" fill="#000000"/>
<rect x="333.18" y="199.72" width="11.46" height="10.82" fill="#000000"/>
<rect x="343.64" y="199.72" width="10.46" height="10.82" fill="#000000"/>
<rect x="218.10" y="209.54" width="11.46" height="10.82" fill="#181818"/>
<rect x="228.56" y="209.54" width="11.46" height="10.82" fill="#181818"/>
<rect x="239.02" y="209.54" width="11.46" height="10.82" fill="#404040"/>
<rect x="249.48" y="209.54" width="11.46" height="10.82" fill="#2a2a2a"/>
<rect x="259.95" y="209.54" width="11.46" height="10.82" fill="#181818"/>
<rect x="270.41" y="209.54" width="11.46" height="10.82" fill="#2a2a2a"/>
<rect x="280.87" y="209.54" width="11.46" height="10.82" fill="#2a2a2a"/>
<rect x="291.33" y="209.54" width="11.46" height="10.82" fill="#2a2a2a"/>
<rect x="301.79" y="209.54" width="11.46" height="10.82" fill="#2a2a2a"/>
<rect x="312.25" y="209.54" width="11.46" height="10.82" fill="#181818"/>
<rect x="322.72" y="209.54" width="11.46" height="10.82" fill="#303030"/>
<rect x="333.18" y="209.54" width="11.46" height="10.82" fill="#181818"/>
<rect x="343.64" y="209.54" width="10.46" height="10.82" fill="#080808"/>
<rect x="218.10" y="219.36" width="11.46" height="10.82" fill="#555555"/>
<rect x="228.56" y="219.36" width="11.46" height="10.82" fill="#181818"/>
<rect x="239.02" y="219.36" width="11.46" height="10.82" fill="#000000"/>
<rect x="249.48" y="219.36" width="11.46" height="10.82" fill="#181818"/>
<rect x="259.95" y="219.36" width="11.46" height="10.82" fill="#000000"/>
<rect x="270.41" y="219.36" width="11.46" height="10.82" fill="#000000"/>
<rect x="280.87" y="219.36" width="11.46" height="10.82" fill="#000000"/>
<rect x="291.33" y="219.36" width="11.46" height="10.82" fill="#000000"/>
<rect x="301.79" y="219.36" width="11.46" height="10.82" fill="#181818"/>
<rect x="312.25" y="219.36" width="11.46" height="10.82" fill="#000000"/>
<rect x="322.72" y="219.36" width="11.46" height="10.82" fill="#181818"/>
<rect x="333.18" y="219.36" width="11.46" height="10.82" fill="#080808"/>
<rect x="343.64" y="219.36" width="10.46" height="10.82" fill="#181818"/>
<rect x="218.10" y="229.18" width="11.46" height="10.82" fill="#3a3a3a"/>
<rect x="228.56" y="229.18" width="11.46" height="10.82" fill="#3a3a3a"/>
<rect x="239.02" y="229.18" width="11.46" height="10.82" fill="#888888"/>
<rect x="249.48" y="229.18" width="11.46" height="10.82" fill="#2a2a2a"/>
<rect x="259.95" y="229.18" width="11.46" height="10.82" fill="#505050"/>
<rect x="270.41" y="229.18" width="11.46" height="10.82" fill="#404040"/>
<rect x="280.87" y="229.18" width="11.46" height="10.82" fill="#666666"/>
<rect x="291.33" y="229.18" width="11.46" height="10.82" fill="#3a3a3a"/>
<rect x="301.79" y="229.18" width="11.46" height="10.82" fill="#555555"/>
<rect x="312.25" y="229.18" width="11.46" height="10.82" fill="#181818"/>
<rect x="322.72" y="229.18" width="11.46" height="10.82" fill="#505050"/>
<rect x="333.18" y="229.18" width="11.46" height="10.82" fill="#181818"/>
<rect x="343.64" y="229.18" width="10.46" height="10.82" fill="#181818"/>
<rect x="218.10" y="239.00" width="11.46" height="10.82" fill="#000000"/>
<rect x="228.56" y="239.00" width="11.46" height="10.82" fill="#000000"/>
<rect x="239.02" y="239.00" width="11.46" height="10.82" fill="#000000"/>
<rect x="249.48" y="239.00" width="11.46" height="10.82" fill="#000000"/>
<rect x="259.95" y="239.00" width="11.46" height="10.82" fill="#000000"/>
<rect x="270.41" y="239.00" width="11.46" height="10.82" fill="#000000"/>
<rect x="280.87" y="239.00" width="11.46" height="10.82" fill="#000000"/>
<rect x="291.33" y="239.00" width="11.46" height="10.82" fill="#000000"/>
<rect x="301.79" y="239.00" width="11.46" height="10.82" fill="#000000"/>
<rect x="312.25" y="239.00" width="11.46" height="10.82" fill="#000000"/>
<rect x="322.72" y="239.00" width="11.46" height="10.82" fill="#707070"/>
<rect x="333.18" y="239.00" width="11.46" height="10.82" fill="#000000"/>
<rect x="343.64" y="239.00" width="10.46" height="10.82" fill="#000000"/>
<rect x="218.10" y="248.82" width="11.46" height="10.82" fill="#181818"/>
<rect x="228.56" y="248.82" width="11.46" height="10.82" fill="#000000"/>
<rect x="239.02" y="248.82" width="11.46" height="10.82" fill="#101010"/>
<rect x="249.48" y="248.82" width="11.46" height="10.82" fill="#080808"/>
<rect x="259.95" y="248.82" width="11.46" height="10.82" fill="#181818"/>
<rect x="270.41" y="248.82" width="11.46" height="10.82" fill="#000000"/>
<rect x="280.87" y="248.82" width="11.46" height="10.82" fill="#000000"/>
<rect x="291.33" y="248.82" width="11.46" height="10.82" fill="#181818"/>
<rect x="301.79" y="248.82" width="11.46" height="10.82" fill="#000000"/>
<rect x="312.25" y="248.82" width="11.46" height="10.82" fill="#000000"/>
<rect x="322.72" y="248.82" width="11.46" height="10.82" fill="#202020"/>
<rect x="333.18" y="248.82" width="11.46" height="10.82" fill="#181818"/>
<rect x="343.64" y="248.82" width="10.46" height="10.82" fill="#000000"/>
<rect x="218.10" y="258.64" width="11.46" height="10.82" fill="#444444"/>
<rect x="228.56" y="258.64" width="11.46" height="10.82" fill="#181818"/>
<rect x="239.02" y="258.64" width="11.46" height="10.82" fill="#606060"/>
<rect x="249.48" y="258.64" width="11.46" height="10.82" fill="#2a2a2a"/>
<rect x="259.95" y="258.64" width="11.46" height="10.82" fill="#3a3a3a"/>
<rect x="270.41" y="258.64" width="11.46" height="10.82" fill="#606060"/>
<rect x="280.87" y="258.64" width="11.46" height="10.82" fill="#4a4a4a"/>
<rect x="291.33" y="258.64" width="11.46" height="10.82" fill="#444444"/>
<rect x="301.79" y="258.64" width="11.46" height="10.82" fill="#555555"/>
<rect x="312.25" y="258.64" width="11.46" height="10.82" fill="#282828"/>
<rect x="322.72" y="258.64" width="11.46" height="10.82" fill="#505050"/>
<rect x="333.18" y="258.64" width="11.46" height="10.82" fill="#181818"/>
<rect x="343.64" y="258.64" width="10.46" height="10.82" fill="#444444"/>
<rect x="218.10" y="268.46" width="11.46" height="10.82" fill="#3a3a3a"/>
<rect x="228.56" y="268.46" width="11.46" height="10.82" fill="#000000"/>
<rect x="239.02" y="268.46" width="11.46" height="10.82" fill="#000000"/>
<rect x="249.48" y="268.46" width="11.46" height="10.82" fill="#181818"/>
<rect x="259.95" y="268.46" width="11.46" height="10.82" fill="#000000"/>
<rect x="270.41" y="268.46" width="11.46" height="10.82" fill="#000000"/>
<rect x="280.87" y="268.46" width="11.46" height="10.82" fill="#000000"/>
<rect x="291.33" y="268.46" width="11.46" height="10.82" fill="#181818"/>
<rect x="301.79" y="268.46" width="11.46" height="10.82" fill="#000000"/>
<rect x="312.25" y="268.46" width="11.46" height="10.82" fill="#000000"/>
<rect x="322.72" y="268.46" width="11.46" height="10.82" fill="#000000"/>
<rect x="333.18" y="268.46" width="11.46" height="10.82" fill="#000000"/>
<rect x="343.64" y="268.46" width="10.46" height="10.82" fill="#000000"/>
<rect x="218.10" y="278.28" width="11.46" height="10.82" fill="#181818"/>
<rect x="228.56" y="278.28" width="11.46" height="10.82" fill="#181818"/>
<rect x="239.02" y="278.28" width="11.46" height="10.82" fill="#707070"/>
<rect x="249.48" y="278.28" width="11.46" height="10.82" fill="#000000"/>
<rect x="259.95" y="278.28" width="11.46" height="10.82" fill="#3a3a3a"/>
<rect x="270.41" y="278.28" width="11.46" height="10.82" fill="#707070"/>
<rect x="280.87" y="278.28" width="11.46" height="10.82" fill="#3a3a3a"/>
<rect x="291.33" y="278.28" width="11.46" height="10.82" fill="#555555"/>
<rect x="301.79" y="278.28" width="11.46" height="10.82" fill="#555555"/>
<rect x="312.25" y="278.28" width="11.46" height="10.82" fill="#282828"/>
<rect x="322.72" y="278.28" width="11.46" height="10.82" fill="#505050"/>
<rect x="333.18" y="278.28" width="11.46" height="10.82" fill="#000000"/>
<rect x="343.64" y="278.28" width="10.46" height="10.82" fill="#444444"/>
<rect x="218.10" y="288.10" width="11.46" height="10.82" fill="#000000"/>
<rect x="228.56" y="288.10" width="11.46" height="10.82" fill="#000000"/>
<rect x="239.02" y="288.10" width="11.46" height="10.82" fill="#000000"/>
<rect x="249.48" y="288.10" width="11.46" height="10.82" fill="#000000"/>
<rect x="259.95" y="288.10" width="11.46" height="10.82" fill="#000000"/>
<rect x="270.41" y="288.10" width="11.46" height="10.82" fill="#282828"/>
<rect x="280.87" y="288.10" width="11.46" height="10.82" fill="#000000"/>
<rect x="291.33" y="288.10" width="11.46" height="10.82" fill="#000000"/>
<rect x="301.79" y="288.10" width="11.46" height="10.82" fill="#000000"/>
<rect x="312.25" y="288.10" width="11.46" height="10.82" fill="#000000"/>
<rect x="322.72" y="288.10" width="11.46" height="10.82" fill="#000000"/>
<rect x="333.18" y="288.10" width="11.46" height="10.82" fill="#000000"/>
<rect x="343.64" y="288.10" width="10.46" height="10.82" fill="#000000"/>
<rect x="218.10" y="297.92" width="11.46" height="10.82" fill="#aaaaaa"/>
<rect x="228.56" y="297.92" width="11.46" height="10.82" fill="#5a5a5a"/>
<rect x="239.02" y="297.92" width="11.46" height="10.82" fill="#8a8a8a"/>
<rect x="249.48" y="297.92" width="11.46" height="10.82" fill="#6a6a6a"/>
<rect x="259.95" y="297.92" width="11.46" height="10.82" fill="#444444"/>
<rect x="270.41" y="297.92" width="11.46" height="10.82" fill="#aaaaaa"/>
<rect x="280.87" y="297.92" width="11.46" height="10.82" fill="#6a6a6a"/>
<rect x="291.33" y="297.92" width="11.46" height="10.82" fill="#444444"/>
<rect x="301.79" y="297.92" width="11.46" height="10.82" fill="#999999"/>
<rect x="312.25" y="297.92" width="11.46" height="10.82" fill="#707070"/>
<rect x="322.72" y="297.92" width="11.46" height="10.82" fill="#999999"/>
<rect x="333.18" y="297.92" width="11.46" height="10.82" fill="#555555"/>
<rect x="343.64" y="297.92" width="10.46" height="10.82" fill="#666666"/>
<rect x="218.10" y="307.74" width="11.46" height="10.82" fill="#aaaaaa"/>
<rect x="228.56" y="307.74" width="11.46" height="10.82" fill="#aaaaaa"/>
<rect x="239.02" y="307.74" width="11.46" height="10.82" fill="#4a4a4a"/>
<rect x="249.48" y="307.74" width="11.46" height="10.82" fill="#999999"/>
<rect x="259.95" y="307.74" width="11.46" height="10.82" fill="#444444"/>
<rect x="270.41" y="307.74" width="11.46" height="10.82" fill="#e27e62"/>
<rect x="280.87" y="307.74" width="11.46" height="10.82" fill="#f9e5e0"/>
<rect x="291.33" y="307.74" width="11.46" height="10.82" fill="#222222"/>
<rect x="301.79" y="307.74" width="11.46" height="10.82" fill="#eeeeee"/>
<rect x="312.25" y="307.74" width="11.46" height="10.82" fill="#fdf6f5"/>
<rect x="322.72" y="307.74" width="11.46" height="10.82" fill="#d8532e"/>
<rect x="333.18" y="307.74" width="11.46" height="10.82" fill="#444444"/>
<rect x="343.64" y="307.74" width="10.46" height="10.82" fill="#888888"/>
<rect x="218.10" y="317.56" width="11.46" height="10.82" fill="#666666"/>
<rect x="228.56" y="317.56" width="11.46" height="10.82" fill="#333333"/>
<rect x="239.02" y="317.56" width="11.46" height="10.82" fill="#222222"/>
<rect x="249.48" y="317.56" width="11.46" height="10.82" fill="#444444"/>
<rect x="259.95" y="317.56" width="11.46" height="10.82" fill="#111111"/>
<rect x="270.41" y="317.56" width="11.46" height="10.82" fill="#f7ddd5"/>
<rect x="280.87" y="317.56" width="11.46" height="10.82" fill="#3a3a3a"/>
<rect x="291.33" y="317.56" width="11.46" height="10.82" fill="#111111"/>
<rect x="301.79" y="317.56" width="11.46" height="10.82" fill="#666666"/>
<rect x="312.25" y="317.56" width="11.46" height="10.82" fill="#333333"/>
<rect x="322.72" y="317.56" width="11.46" height="10.82" fill="#333333"/>
<rect x="333.18" y="317.56" width="11.46" height="10.82" fill="#222222"/>
<rect x="343.64" y="317.56" width="10.46" height="10.82" fill="#444444"/>
<rect x="218.10" y="327.38" width="11.46" height="9.82" fill="#777777"/>
<rect x="228.56" y="327.38" width="11.46" height="9.82" fill="#333333"/>
<rect x="239.02" y="327.38" width="11.46" height="9.82" fill="#222222"/>
<rect x="249.48" y="327.38" width="11.46" height="9.82" fill="#333333"/>
<rect x="259.95" y="327.38" width="11.46" height="9.82" fill="#333333"/>
<rect x="270.41" y="327.38" width="11.46" height="9.82" fill="#3a3a3a"/>
<rect x="280.87" y="327.38" width="11.46" height="9.82" fill="#222222"/>
<rect x="291.33" y="327.38" width="11.46" height="9.82" fill="#222222"/>
<rect x="301.79" y="327.38" width="11.46" height="9.82" fill="#3a3a3a"/>
<rect x="312.25" y="327.38" width="11.46" height="9.82" fill="#444444"/>
<rect x="322.72" y="327.38" width="11.46" height="9.82" fill="#444444"/>
<rect x="333.18" y="327.38" width="11.46" height="9.82" fill="#222222"/>
<rect x="343.64" y="327.38" width="10.46" height="9.82" fill="#222222"/>
</g>
<rect x="218.40" y="190.20" width="135.40" height="146.70" fill="none" stroke="#000" stroke-width="0.6"/>
<line x1="215.70" y1="194.81" x2="218.10" y2="194.81" stroke="#000" stroke-width="0.9"/>
<line x1="215.70" y1="204.63" x2="218.10" y2="204.63" stroke="#000" stroke-width="0.9"/>
<line x1="215.70" y1="214.45" x2="218.10" y2="214.45" stroke="#000" stroke-width="0.9"/>
<line x1="215.70" y1="224.27" x2="218.10" y2="224.27" stroke="#000" stroke-width="0.9"/>
<line x1="215.70" y1="234.09" x2="218.10" y2="234.09" stroke="#000" stroke-width="0.9"/>
<line x1="215.70" y1="243.91" x2="218.10" y2="243.91" stroke="#000" stroke-width="0.9"/>
<line x1="215.70" y1="253.73" x2="218.10" y2="253.73" stroke="#000" stroke-width="0.9"/>
<line x1="215.70" y1="263.55" x2="218.10" y2="263.55" stroke="#000" stroke-width="0.9"/>
<line x1="215.70" y1="273.37" x2="218.10" y2="273.37" stroke="#000" stroke-width="0.9"/>
<line x1="215.70" y1="283.19" x2="218.10" y2="283.19" stroke="#000" stroke-width="0.9"/>
<line x1="215.70" y1="293.01" x2="218.10" y2="293.01" stroke="#000" stroke-width="0.9"/>
<line x1="215.70" y1="302.83" x2="218.10" y2="302.83" stroke="#000" stroke-width="0.9"/>
<line x1="215.70" y1="312.65" x2="218.10" y2="312.65" stroke="#000" stroke-width="0.9"/>
<line x1="215.70" y1="322.47" x2="218.10" y2="322.47" stroke="#000" stroke-width="0.9"/>
<line x1="215.70" y1="332.29" x2="218.10" y2="332.29" stroke="#000" stroke-width="0.9"/>
<line x1="223.33" y1="337.20" x2="223.33" y2="339.60" stroke="#000" stroke-width="0.9"/>
<line x1="233.79" y1="337.20" x2="233.79" y2="339.60" stroke="#000" stroke-width="0.9"/>
<line x1="244.25" y1="337.20" x2="244.25" y2="339.60" stroke="#000" stroke-width="0.9"/>
<line x1="254.72" y1="337.20" x2="254.72" y2="339.60" stroke="#000" stroke-width="0.9"/>
<line x1="265.18" y1="337.20" x2="265.18" y2="339.60" stroke="#000" stroke-width="0.9"/>
<line x1="275.64" y1="337.20" x2="275.64" y2="339.60" stroke="#000" stroke-width="0.9"/>
<line x1="286.10" y1="337.20" x2="286.10" y2="339.60" stroke="#000" stroke-width="0.9"/>
<line x1="296.56" y1="337.20" x2="296.56" y2="339.60" stroke="#000" stroke-width="0.9"/>
<line x1="307.02" y1="337.20" x2="307.02" y2="339.60" stroke="#000" stroke-width="0.9"/>
<line x1="317.48" y1="337.20" x2="317.48" y2="339.60" stroke="#000" stroke-width="0.9"/>
<line x1="327.95" y1="337.20" x2="327.95" y2="339.60" stroke="#000" stroke-width="0.9"/>
<line x1="338.41" y1="337.20" x2="338.41" y2="339.60" stroke="#000" stroke-width="0.9"/>
<line x1="348.87" y1="337.20" x2="348.87" y2="339.60" stroke="#000" stroke-width="0.9"/>
<rect x="355.40" y="189.90" width="4.10" height="147.30" fill="url(#cb)" stroke="#444" stroke-width="0.5"/>
<line x1="359.50" y1="189.90" x2="361.30" y2="189.90" stroke="#000" stroke-width="0.9"/>
<line x1="359.50" y1="219.36" x2="361.30" y2="219.36" stroke="#000" stroke-width="0.9"/>
<line x1="359.50" y1="248.82" x2="361.30" y2="248.82" stroke="#000" stroke-width="0.9"/>
<line x1="359.50" y1="278.28" x2="361.30" y2="278.28" stroke="#000" stroke-width="0.9"/>
<line x1="359.50" y1="307.74" x2="361.30" y2="307.74" stroke="#000" stroke-width="0.9"/>
<line x1="359.50" y1="337.20" x2="361.30" y2="337.20" stroke="#000" stroke-width="0.9"/>
</g>
<g>
<g>
<rect x="383.70" y="189.90" width="11.46" height="10.82" fill="#000000"/>
<rect x="394.16" y="189.90" width="11.46" height="10.82" fill="#000000"/>
<rect x="404.62" y="189.90" width="11.46" height="10.82" fill="#000000"/>
<rect x="415.08" y="189.90" width="11.46" height="10.82" fill="#000000"/>
<rect x="425.55" y="189.90" width="11.46" height="10.82" fill="#000000"/>
<rect x="436.01" y="189.90" width="11.46" height="10.82" fill="#000000"/>
<rect x="446.47" y="189.90" width="11.46" height="10.82" fill="#000000"/>
<rect x="456.93" y="189.90" width="11.46" height="10.82" fill="#000000"/>
<rect x="467.39" y="189.90" width="11.46" height="10.82" fill="#000000"/>
<rect x="477.85" y="189.90" width="11.46" height="10.82" fill="#000000"/>
<rect x="488.32" y="189.90" width="11.46" height="10.82" fill="#000000"/>
<rect x="498.78" y="189.90" width="11.46" height="10.82" fill="#000000"/>
<rect x="509.24" y="189.90" width="10.46" height="10.82" fill="#000000"/>
<rect x="383.70" y="199.72" width="11.46" height="10.82" fill="#000000"/>
<rect x="394.16" y="199.72" width="11.46" height="10.82" fill="#000000"/>
<rect x="404.62" y="199.72" width="11.46" height="10.82" fill="#000000"/>
<rect x="415.08" y="199.72" width="11.46" height="10.82" fill="#000000"/>
<rect x="425.55" y="199.72" width="11.46" height="10.82" fill="#000000"/>
<rect x="436.01" y="199.72" width="11.46" height="10.82" fill="#000000"/>
<rect x="446.47" y="199.72" width="11.46" height="10.82" fill="#000000"/>
<rect x="456.93" y="199.72" width="11.46" height="10.82" fill="#000000"/>
<rect x="467.39" y="199.72" width="11.46" height="10.82" fill="#000000"/>
<rect x="477.85" y="199.72" width="11.46" height="10.82" fill="#000000"/>
<rect x="488.32" y="199.72" width="11.46" height="10.82" fill="#000000"/>
<rect x="498.78" y="199.72" width="11.46" height="10.82" fill="#000000"/>
<rect x="509.24" y="199.72" width="10.46" height="10.82" fill="#000000"/>
<rect x="383.70" y="209.54" width="11.46" height="10.82" fill="#555555"/>
<rect x="394.16" y="209.54" width="11.46" height="10.82" fill="#000000"/>
<rect x="404.62" y="209.54" width="11.46" height="10.82" fill="#333333"/>
<rect x="415.08" y="209.54" width="11.46" height="10.82" fill="#000000"/>
<rect x="425.55" y="209.54" width="11.46" height="10.82" fill="#000000"/>
<rect x="436.01" y="209.54" width="11.46" height="10.82" fill="#000000"/>
<rect x="446.47" y="209.54" width="11.46" height="10.82" fill="#444444"/>
<rect x="456.93" y="209.54" width="11.46" height="10.82" fill="#000000"/>
<rect x="467.39" y="209.54" width="11.46" height="10.82" fill="#000000"/>
<rect x="477.85" y="209.54" width="11.46" height="10.82" fill="#000000"/>
<rect x="488.32" y="209.54" width="11.46" height="10.82" fill="#000000"/>
<rect x="498.78" y="209.54" width="11.46" height="10.82" fill="#000000"/>
<rect x="509.24" y="209.54" width="10.46" height="10.82" fill="#707070"/>
<rect x="383.70" y="219.36" width="11.46" height="10.82" fill="#000000"/>
<rect x="394.16" y="219.36" width="11.46" height="10.82" fill="#000000"/>
<rect x="404.62" y="219.36" width="11.46" height="10.82" fill="#000000"/>
<rect x="415.08" y="219.36" width="11.46" height="10.82" fill="#000000"/>
<rect x="425.55" y="219.36" width="11.46" height="10.82" fill="#000000"/>
<rect x="436.01" y="219.36" width="11.46" height="10.82" fill="#000000"/>
<rect x="446.47" y="219.36" width="11.46" height="10.82" fill="#666666"/>
<rect x="456.93" y="219.36" width="11.46" height="10.82" fill="#000000"/>
<rect x="467.39" y="219.36" width="11.46" height="10.82" fill="#000000"/>
<rect x="477.85" y="219.36" width="11.46" height="10.82" fill="#000000"/>
<rect x="488.32" y="219.36" width="11.46" height="10.82" fill="#000000"/>
<rect x="498.78" y="219.36" width="11.46" height="10.82" fill="#000000"/>
<rect x="509.24" y="219.36" width="10.46" height="10.82" fill="#000000"/>
<rect x="383.70" y="229.18" width="11.46" height="10.82" fill="#bbbbbb"/>
<rect x="394.16" y="229.18" width="11.46" height="10.82" fill="#000000"/>
<rect x="404.62" y="229.18" width="11.46" height="10.82" fill="#707070"/>
<rect x="415.08" y="229.18" width="11.46" height="10.82" fill="#000000"/>
<rect x="425.55" y="229.18" width="11.46" height="10.82" fill="#666666"/>
<rect x="436.01" y="229.18" width="11.46" height="10.82" fill="#333333"/>
<rect x="446.47" y="229.18" width="11.46" height="10.82" fill="#333333"/>
<rect x="456.93" y="229.18" width="11.46" height="10.82" fill="#000000"/>
<rect x="467.39" y="229.18" width="11.46" height="10.82" fill="#000000"/>
<rect x="477.85" y="229.18" width="11.46" height="10.82" fill="#000000"/>
<rect x="488.32" y="229.18" width="11.46" height="10.82" fill="#000000"/>
<rect x="498.78" y="229.18" width="11.46" height="10.82" fill="#3a3a3a"/>
<rect x="509.24" y="229.18" width="10.46" height="10.82" fill="#222222"/>
<rect x="383.70" y="239.00" width="11.46" height="10.82" fill="#000000"/>
<rect x="394.16" y="239.00" width="11.46" height="10.82" fill="#000000"/>
<rect x="404.62" y="239.00" width="11.46" height="10.82" fill="#000000"/>
<rect x="415.08" y="239.00" width="11.46" height="10.82" fill="#000000"/>
<rect x="425.55" y="239.00" width="11.46" height="10.82" fill="#000000"/>
<rect x="436.01" y="239.00" width="11.46" height="10.82" fill="#000000"/>
<rect x="446.47" y="239.00" width="11.46" height="10.82" fill="#000000"/>
<rect x="456.93" y="239.00" width="11.46" height="10.82" fill="#000000"/>
<rect x="467.39" y="239.00" width="11.46" height="10.82" fill="#000000"/>
<rect x="477.85" y="239.00" width="11.46" height="10.82" fill="#000000"/>
<rect x="488.32" y="239.00" width="11.46" height="10.82" fill="#000000"/>
<rect x="498.78" y="239.00" width="11.46" height="10.82" fill="#000000"/>
<rect x="509.24" y="239.00" width="10.46" height="10.82" fill="#000000"/>
<rect x="383.70" y="248.82" width="11.46" height="10.82" fill="#000000"/>
<rect x="394.16" y="248.82" width="11.46" height="10.82" fill="#000000"/>
<rect x="404.62" y="248.82" width="11.46" height="10.82" fill="#333333"/>
<rect x="415.08" y="248.82" width="11.46" height="10.82" fill="#000000"/>
<rect x="425.55" y="248.82" width="11.46" height="10.82" fill="#000000"/>
<rect x="436.01" y="248.82" width="11.46" height="10.82" fill="#000000"/>
<rect x="446.47" y="248.82" width="11.46" height="10.82" fill="#000000"/>
<rect x="456.93" y="248.82" width="11.46" height="10.82" fill="#000000"/>
<rect x="467.39" y="248.82" width="11.46" height="10.82" fill="#000000"/>
<rect x="477.85" y="248.82" width="11.46" height="10.82" fill="#000000"/>
<rect x="488.32" y="248.82" width="11.46" height="10.82" fill="#333333"/>
<rect x="498.78" y="248.82" width="11.46" height="10.82" fill="#000000"/>
<rect x="509.24" y="248.82" width="10.46" height="10.82" fill="#000000"/>
<rect x="383.70" y="258.64" width="11.46" height="10.82" fill="#000000"/>
<rect x="394.16" y="258.64" width="11.46" height="10.82" fill="#000000"/>
<rect x="404.62" y="258.64" width="11.46" height="10.82" fill="#000000"/>
<rect x="415.08" y="258.64" width="11.46" height="10.82" fill="#000000"/>
<rect x="425.55" y="258.64" width="11.46" height="10.82" fill="#000000"/>
<rect x="436.01" y="258.64" width="11.46" height="10.82" fill="#000000"/>
<rect x="446.47" y="258.64" width="11.46" height="10.82" fill="#000000"/>
<rect x="456.93" y="258.64" width="11.46" height="10.82" fill="#333333"/>
<rect x="467.39" y="258.64" width="11.46" height="10.82" fill="#000000"/>
<rect x="477.85" y="258.64" width="11.46" height="10.82" fill="#000000"/>
<rect x="488.32" y="258.64" width="11.46" height="10.82" fill="#444444"/>
<rect x="498.78" y="258.64" width="11.46" height="10.82" fill="#000000"/>
<rect x="509.24" y="258.64" width="10.46" height="10.82" fill="#000000"/>
<rect x="383.70" y="268.46" width="11.46" height="10.82" fill="#000000"/>
<rect x="394.16" y="268.46" width="11.46" height="10.82" fill="#000000"/>
<rect x="404.62" y="268.46" width="11.46" height="10.82" fill="#000000"/>
<rect x="415.08" y="268.46" width="11.46" height="10.82" fill="#000000"/>
<rect x="425.55" y="268.46" width="11.46" height="10.82" fill="#000000"/>
<rect x="436.01" y="268.46" width="11.46" height="10.82" fill="#000000"/>
<rect x="446.47" y="268.46" width="11.46" height="10.82" fill="#000000"/>
<rect x="456.93" y="268.46" width="11.46" height="10.82" fill="#000000"/>
<rect x="467.39" y="268.46" width="11.46" height="10.82" fill="#000000"/>
<rect x="477.85" y="268.46" width="11.46" height="10.82" fill="#000000"/>
<rect x="488.32" y="268.46" width="11.46" height="10.82" fill="#000000"/>
<rect x="498.78" y="268.46" width="11.46" height="10.82" fill="#000000"/>
<rect x="509.24" y="268.46" width="10.46" height="10.82" fill="#000000"/>
<rect x="383.70" y="278.28" width="11.46" height="10.82" fill="#000000"/>
<rect x="394.16" y="278.28" width="11.46" height="10.82" fill="#000000"/>
<rect x="404.62" y="278.28" width="11.46" height="10.82" fill="#999999"/>
<rect x="415.08" y="278.28" width="11.46" height="10.82" fill="#000000"/>
<rect x="425.55" y="278.28" width="11.46" height="10.82" fill="#000000"/>
<rect x="436.01" y="278.28" width="11.46" height="10.82" fill="#000000"/>
<rect x="446.47" y="278.28" width="11.46" height="10.82" fill="#000000"/>
<rect x="456.93" y="278.28" width="11.46" height="10.82" fill="#999999"/>
<rect x="467.39" y="278.28" width="11.46" height="10.82" fill="#000000"/>
<rect x="477.85" y="278.28" width="11.46" height="10.82" fill="#2a2a2a"/>
<rect x="488.32" y="278.28" width="11.46" height="10.82" fill="#888888"/>
<rect x="498.78" y="278.28" width="11.46" height="10.82" fill="#444444"/>
<rect x="509.24" y="278.28" width="10.46" height="10.82" fill="#000000"/>
<rect x="383.70" y="288.10" width="11.46" height="10.82" fill="#000000"/>
<rect x="394.16" y="288.10" width="11.46" height="10.82" fill="#000000"/>
<rect x="404.62" y="288.10" width="11.46" height="10.82" fill="#000000"/>
<rect x="415.08" y="288.10" width="11.46" height="10.82" fill="#000000"/>
<rect x="425.55" y="288.10" width="11.46" height="10.82" fill="#000000"/>
<rect x="436.01" y="288.10" width="11.46" height="10.82" fill="#000000"/>
<rect x="446.47" y="288.10" width="11.46" height="10.82" fill="#000000"/>
<rect x="456.93" y="288.10" width="11.46" height="10.82" fill="#000000"/>
<rect x="467.39" y="288.10" width="11.46" height="10.82" fill="#000000"/>
<rect x="477.85" y="288.10" width="11.46" height="10.82" fill="#000000"/>
<rect x="488.32" y="288.10" width="11.46" height="10.82" fill="#000000"/>
<rect x="498.78" y="288.10" width="11.46" height="10.82" fill="#000000"/>
<rect x="509.24" y="288.10" width="10.46" height="10.82" fill="#000000"/>
<rect x="383.70" y="297.92" width="11.46" height="10.82" fill="#000000"/>
<rect x="394.16" y="297.92" width="11.46" height="10.82" fill="#999999"/>
<rect x="404.62" y="297.92" width="11.46" height="10.82" fill="#ffffff"/>
<rect x="415.08" y="297.92" width="11.46" height="10.82" fill="#555555"/>
<rect x="425.55" y="297.92" width="11.46" height="10.82" fill="#aaaaaa"/>
<rect x="436.01" y="297.92" width="11.46" height="10.82" fill="#dc6443"/>
<rect x="446.47" y="297.92" width="11.46" height="10.82" fill="#222222"/>
<rect x="456.93" y="297.92" width="11.46" height="10.82" fill="#999999"/>
<rect x="467.39" y="297.92" width="11.46" height="10.82" fill="#707070"/>
<rect x="477.85" y="297.92" width="11.46" height="10.82" fill="#909090"/>
<rect x="488.32" y="297.92" width="11.46" height="10.82" fill="#f7ddd5"/>
<rect x="498.78" y="297.92" width="11.46" height="10.82" fill="#000000"/>
<rect x="509.24" y="297.92" width="10.46" height="10.82" fill="#222222"/>
<rect x="383.70" y="307.74" width="11.46" height="10.82" fill="#000000"/>
<rect x="394.16" y="307.74" width="11.46" height="10.82" fill="#222222"/>
<rect x="404.62" y="307.74" width="11.46" height="10.82" fill="#888888"/>
<rect x="415.08" y="307.74" width="11.46" height="10.82" fill="#222222"/>
<rect x="425.55" y="307.74" width="11.46" height="10.82" fill="#000000"/>
<rect x="436.01" y="307.74" width="11.46" height="10.82" fill="#000000"/>
<rect x="446.47" y="307.74" width="11.46" height="10.82" fill="#dddddd"/>
<rect x="456.93" y="307.74" width="11.46" height="10.82" fill="#000000"/>
<rect x="467.39" y="307.74" width="11.46" height="10.82" fill="#555555"/>
<rect x="477.85" y="307.74" width="11.46" height="10.82" fill="#cccccc"/>
<rect x="488.32" y="307.74" width="11.46" height="10.82" fill="#de6d4d"/>
<rect x="498.78" y="307.74" width="11.46" height="10.82" fill="#1a1a1a"/>
<rect x="509.24" y="307.74" width="10.46" height="10.82" fill="#080808"/>
<rect x="383.70" y="317.56" width="11.46" height="10.82" fill="#000000"/>
<rect x="394.16" y="317.56" width="11.46" height="10.82" fill="#181818"/>
<rect x="404.62" y="317.56" width="11.46" height="10.82" fill="#666666"/>
<rect x="415.08" y="317.56" width="11.46" height="10.82" fill="#181818"/>
<rect x="425.55" y="317.56" width="11.46" height="10.82" fill="#606060"/>
<rect x="436.01" y="317.56" width="11.46" height="10.82" fill="#eeeeee"/>
<rect x="446.47" y="317.56" width="11.46" height="10.82" fill="#222222"/>
<rect x="456.93" y="317.56" width="11.46" height="10.82" fill="#aaaaaa"/>
<rect x="467.39" y="317.56" width="11.46" height="10.82" fill="#000000"/>
<rect x="477.85" y="317.56" width="11.46" height="10.82" fill="#222222"/>
<rect x="488.32" y="317.56" width="11.46" height="10.82" fill="#707070"/>
<rect x="498.78" y="317.56" width="11.46" height="10.82" fill="#080808"/>
<rect x="509.24" y="317.56" width="10.46" height="10.82" fill="#080808"/>
<rect x="383.70" y="327.38" width="11.46" height="9.82" fill="#555555"/>
<rect x="394.16" y="327.38" width="11.46" height="9.82" fill="#999999"/>
<rect x="404.62" y="327.38" width="11.46" height="9.82" fill="#dc6443"/>
<rect x="415.08" y="327.38" width="11.46" height="9.82" fill="#888888"/>
<rect x="425.55" y="327.38" width="11.46" height="9.82" fill="#ffffff"/>
<rect x="436.01" y="327.38" width="11.46" height="9.82" fill="#f3cbc0"/>
<rect x="446.47" y="327.38" width="11.46" height="9.82" fill="#f7ddd5"/>
<rect x="456.93" y="327.38" width="11.46" height="9.82" fill="#f1c3b6"/>
<rect x="467.39" y="327.38" width="11.46" height="9.82" fill="#cccccc"/>
<rect x="477.85" y="327.38" width="11.46" height="9.82" fill="#f3cbc0"/>
<rect x="488.32" y="327.38" width="11.46" height="9.82" fill="#da5c38"/>
<rect x="498.78" y="327.38" width="11.46" height="9.82" fill="#dddddd"/>
<rect x="509.24" y="327.38" width="10.46" height="9.82" fill="#ffffff"/>
</g>
<rect x="384.00" y="190.20" width="135.40" height="146.70" fill="none" stroke="#000" stroke-width="0.6"/>
<line x1="381.30" y1="194.81" x2="383.70" y2="194.81" stroke="#000" stroke-width="0.9"/>
<line x1="381.30" y1="204.63" x2="383.70" y2="204.63" stroke="#000" stroke-width="0.9"/>
<line x1="381.30" y1="214.45" x2="383.70" y2="214.45" stroke="#000" stroke-width="0.9"/>
<line x1="381.30" y1="224.27" x2="383.70" y2="224.27" stroke="#000" stroke-width="0.9"/>
<line x1="381.30" y1="234.09" x2="383.70" y2="234.09" stroke="#000" stroke-width="0.9"/>
<line x1="381.30" y1="243.91" x2="383.70" y2="243.91" stroke="#000" stroke-width="0.9"/>
<line x1="381.30" y1="253.73" x2="383.70" y2="253.73" stroke="#000" stroke-width="0.9"/>
<line x1="381.30" y1="263.55" x2="383.70" y2="263.55" stroke="#000" stroke-width="0.9"/>
<line x1="381.30" y1="273.37" x2="383.70" y2="273.37" stroke="#000" stroke-width="0.9"/>
<line x1="381.30" y1="283.19" x2="383.70" y2="283.19" stroke="#000" stroke-width="0.9"/>
<line x1="381.30" y1="293.01" x2="383.70" y2="293.01" stroke="#000" stroke-width="0.9"/>
<line x1="381.30" y1="302.83" x2="383.70" y2="302.83" stroke="#000" stroke-width="0.9"/>
<line x1="381.30" y1="312.65" x2="383.70" y2="312.65" stroke="#000" stroke-width="0.9"/>
<line x1="381.30" y1="322.47" x2="383.70" y2="322.47" stroke="#000" stroke-width="0.9"/>
<line x1="381.30" y1="332.29" x2="383.70" y2="332.29" stroke="#000" stroke-width="0.9"/>
<line x1="388.93" y1="337.20" x2="388.93" y2="339.60" stroke="#000" stroke-width="0.9"/>
<line x1="399.39" y1="337.20" x2="399.39" y2="339.60" stroke="#000" stroke-width="0.9"/>
<line x1="409.85" y1="337.20" x2="409.85" y2="339.60" stroke="#000" stroke-width="0.9"/>
<line x1="420.32" y1="337.20" x2="420.32" y2="339.60" stroke="#000" stroke-width="0.9"/>
<line x1="430.78" y1="337.20" x2="430.78" y2="339.60" stroke="#000" stroke-width="0.9"/>
<line x1="441.24" y1="337.20" x2="441.24" y2="339.60" stroke="#000" stroke-width="0.9"/>
<line x1="451.70" y1="337.20" x2="451.70" y2="339.60" stroke="#000" stroke-width="0.9"/>
<line x1="462.16" y1="337.20" x2="462.16" y2="339.60" stroke="#000" stroke-width="0.9"/>
<line x1="472.62" y1="337.20" x2="472.62" y2="339.60" stroke="#000" stroke-width="0.9"/>
<line x1="483.08" y1="337.20" x2="483.08" y2="339.60" stroke="#000" stroke-width="0.9"/>
<line x1="493.55" y1="337.20" x2="493.55" y2="339.60" stroke="#000" stroke-width="0.9"/>
<line x1="504.01" y1="337.20" x2="504.01" y2="339.60" stroke="#000" stroke-width="0.9"/>
<line x1="514.47" y1="337.20" x2="514.47" y2="339.60" stroke="#000" stroke-width="0.9"/>
<rect x="521.00" y="189.90" width="4.10" height="147.30" fill="url(#cb)" stroke="#444" stroke-width="0.5"/>
<line x1="525.10" y1="189.90" x2="526.90" y2="189.90" stroke="#000" stroke-width="0.9"/>
<line x1="525.10" y1="219.36" x2="526.90" y2="219.36" stroke="#000" stroke-width="0.9"/>
<line x1="525.10" y1="248.82" x2="526.90" y2="248.82" stroke="#000" stroke-width="0.9"/>
<line x1="525.10" y1="278.28" x2="526.90" y2="278.28" stroke="#000" stroke-width="0.9"/>
<line x1="525.10" y1="307.74" x2="526.90" y2="307.74" stroke="#000" stroke-width="0.9"/>
<line x1="525.10" y1="337.20" x2="526.90" y2="337.20" stroke="#000" stroke-width="0.9"/>
</g>
</g>
<g filter="url(#bt)">
<text x="52.9" y="13.0" font-size="12.1">(a) NSE</text>
<text transform="translate(49.20 23.11) scale(0.93 1)" font-size="7.3" text-anchor="end">Annual_Tmin</text>
<text transform="translate(49.20 32.93) scale(0.93 1)" font-size="7.3" text-anchor="end">Winter_Tmin</text>
<text transform="translate(49.20 42.75) scale(0.93 1)" font-size="7.3" text-anchor="end">Autumn_Tmin</text>
<text transform="translate(49.20 52.57) scale(0.93 1)" font-size="7.3" text-anchor="end">Summer_Tmin</text>
<text transform="translate(49.20 62.39) scale(0.93 1)" font-size="7.3" text-anchor="end">Spring_Tmin</text>
<text transform="translate(49.20 72.21) scale(0.93 1)" font-size="7.3" text-anchor="end">Annual_Tmax</text>
<text transform="translate(49.20 82.03) scale(0.93 1)" font-size="7.3" text-anchor="end">Winter_Tmax</text>
<text transform="translate(49.20 91.85) scale(0.93 1)" font-size="7.3" text-anchor="end">Autumn_Tmax</text>
<text transform="translate(49.20 101.67) scale(0.93 1)" font-size="7.3" text-anchor="end">Summer_Tmax</text>
<text transform="translate(49.20 111.49) scale(0.93 1)" font-size="7.3" text-anchor="end">Spring_Tmax</text>
<text transform="translate(49.20 121.31) scale(0.93 1)" font-size="7.3" text-anchor="end">Annual_Rain</text>
<text transform="translate(49.20 131.13) scale(0.93 1)" font-size="7.3" text-anchor="end">Winter_Rain</text>
<text transform="translate(49.20 140.95) scale(0.93 1)" font-size="7.3" text-anchor="end">Autumn_Rain</text>
<text transform="translate(49.20 150.77) scale(0.93 1)" font-size="7.3" text-anchor="end">Summer_Rain</text>
<text transform="translate(49.20 160.59) scale(0.93 1)" font-size="7.3" text-anchor="end">Spring_Rain</text>
<text transform="translate(200.80 18.20) scale(0.93 1)" font-size="7.0">0.04</text>
<text transform="translate(196.70 47.96) scale(1.6 1)" font-size="7.0" stroke-width="0.05">−</text>
<text transform="translate(202.80 47.66) scale(0.93 1)" font-size="7.0">1.24</text>
<text transform="translate(196.70 77.42) scale(1.6 1)" font-size="7.0" stroke-width="0.05">−</text>
<text transform="translate(202.80 77.12) scale(0.93 1)" font-size="7.0">2.51</text>
<text transform="translate(196.70 106.88) scale(1.6 1)" font-size="7.0" stroke-width="0.05">−</text>
<text transform="translate(202.80 106.58) scale(0.93 1)" font-size="7.0">3.79</text>
<text transform="translate(196.70 136.34) scale(1.6 1)" font-size="7.0" stroke-width="0.05">−</text>
<text transform="translate(202.80 136.04) scale(0.93 1)" font-size="7.0">5.06</text>
<text transform="translate(196.70 165.80) scale(1.6 1)" font-size="7.0" stroke-width="0.05">−</text>
<text transform="translate(202.80 165.50) scale(0.93 1)" font-size="7.0">6.34</text>
<text x="218.5" y="13.0" font-size="12.1">(b) NRMSE</text>
<text transform="translate(363.00 18.20) scale(0.93 1)" font-size="7.0">1.55</text>
<text transform="translate(363.00 47.66) scale(0.93 1)" font-size="7.0">1.24</text>
<text transform="translate(363.00 77.12) scale(0.93 1)" font-size="7.0">0.94</text>
<text transform="translate(363.00 106.58) scale(0.93 1)" font-size="7.0">0.64</text>
<text transform="translate(363.00 136.04) scale(0.93 1)" font-size="7.0">0.33</text>
<text transform="translate(363.00 165.50) scale(0.93 1)" font-size="7.0">0.03</text>
<text x="384.1" y="13.0" font-size="12.1">(c) Mod_IoA</text>
<text transform="translate(532.00 18.20) scale(0.93 1)" font-size="7.0">0.49</text>
<text transform="translate(532.00 47.66) scale(0.93 1)" font-size="7.0">0.29</text>
<text transform="translate(532.00 77.12) scale(0.93 1)" font-size="7.0">0.08</text>
<text transform="translate(527.90 106.88) scale(1.6 1)" font-size="7.0" stroke-width="0.05">−</text>
<text transform="translate(534.00 106.58) scale(0.93 1)" font-size="7.0">0.12</text>
<text transform="translate(527.90 136.34) scale(1.6 1)" font-size="7.0" stroke-width="0.05">−</text>
<text transform="translate(534.00 136.04) scale(0.93 1)" font-size="7.0">0.32</text>
<text transform="translate(527.90 165.80) scale(1.6 1)" font-size="7.0" stroke-width="0.05">−</text>
<text transform="translate(534.00 165.50) scale(0.93 1)" font-size="7.0">0.53</text>
<text x="52.9" y="187.1" font-size="12.1">(d) KGE</text>
<text transform="translate(49.20 197.21) scale(0.93 1)" font-size="7.3" text-anchor="end">Annual_Tmin</text>
<text transform="translate(49.20 207.03) scale(0.93 1)" font-size="7.3" text-anchor="end">Winter_Tmin</text>
<text transform="translate(49.20 216.85) scale(0.93 1)" font-size="7.3" text-anchor="end">Autumn_Tmin</text>
<text transform="translate(49.20 226.67) scale(0.93 1)" font-size="7.3" text-anchor="end">Summer_Tmin</text>
<text transform="translate(49.20 236.49) scale(0.93 1)" font-size="7.3" text-anchor="end">Spring_Tmin</text>
<text transform="translate(49.20 246.31) scale(0.93 1)" font-size="7.3" text-anchor="end">Annual_Tmax</text>
<text transform="translate(49.20 256.13) scale(0.93 1)" font-size="7.3" text-anchor="end">Winter_Tmax</text>
<text transform="translate(49.20 265.95) scale(0.93 1)" font-size="7.3" text-anchor="end">Autumn_Tmax</text>
<text transform="translate(49.20 275.77) scale(0.93 1)" font-size="7.3" text-anchor="end">Summer_Tmax</text>
<text transform="translate(49.20 285.59) scale(0.93 1)" font-size="7.3" text-anchor="end">Spring_Tmax</text>
<text transform="translate(49.20 295.41) scale(0.93 1)" font-size="7.3" text-anchor="end">Annual_Rain</text>
<text transform="translate(49.20 305.23) scale(0.93 1)" font-size="7.3" text-anchor="end">Winter_Rain</text>
<text transform="translate(49.20 315.05) scale(0.93 1)" font-size="7.3" text-anchor="end">Autumn_Rain</text>
<text transform="translate(49.20 324.87) scale(0.93 1)" font-size="7.3" text-anchor="end">Summer_Rain</text>
<text transform="translate(49.20 334.69) scale(0.93 1)" font-size="7.3" text-anchor="end">Spring_Rain</text>
<text transform="translate(63.63 347.20) rotate(-45) scale(0.93 1)" font-size="7.3" text-anchor="end">ACCESS</text>
<text transform="translate(74.09 347.20) rotate(-45) scale(0.93 1)" font-size="7.3" text-anchor="end">BCC_CSM</text>
<text transform="translate(84.55 347.20) rotate(-45) scale(0.93 1)" font-size="7.3" text-anchor="end">CanESM5</text>
<text transform="translate(95.02 347.20) rotate(-45) scale(0.93 1)" font-size="7.3" text-anchor="end">GFDL</text>
<text transform="translate(105.48 347.20) rotate(-45) scale(0.93 1)" font-size="7.3" text-anchor="end">GISS</text>
<text transform="translate(115.94 347.20) rotate(-45) scale(0.93 1)" font-size="7.3" text-anchor="end">INM-CM4-8</text>
<text transform="translate(126.40 347.20) rotate(-45) scale(0.93 1)" font-size="7.3" text-anchor="end">IPSL</text>
<text transform="translate(136.86 347.20) rotate(-45) scale(0.93 1)" font-size="7.3" text-anchor="end">KIOST</text>
<text transform="translate(147.32 347.20) rotate(-45) scale(0.93 1)" font-size="7.3" text-anchor="end">MIROC6</text>
<text transform="translate(157.78 347.20) rotate(-45) scale(0.93 1)" font-size="7.3" text-anchor="end">MPI_ESM_HR</text>
<text transform="translate(168.25 347.20) rotate(-45) scale(0.93 1)" font-size="7.3" text-anchor="end">MPI_ESM_LR</text>
<text transform="translate(178.71 347.20) rotate(-45) scale(0.93 1)" font-size="7.3" text-anchor="end">MRI-ESM2-0</text>
<text transform="translate(189.17 347.20) rotate(-45) scale(0.93 1)" font-size="7.3" text-anchor="end">NorESM2M</text>
<text transform="translate(200.80 192.30) scale(0.93 1)" font-size="7.0">0.41</text>
<text transform="translate(200.80 221.76) scale(0.93 1)" font-size="7.0">0.09</text>
<text transform="translate(196.70 251.52) scale(1.6 1)" font-size="7.0" stroke-width="0.05">−</text>
<text transform="translate(202.80 251.22) scale(0.93 1)" font-size="7.0">0.22</text>
<text transform="translate(196.70 280.98) scale(1.6 1)" font-size="7.0" stroke-width="0.05">−</text>
<text transform="translate(202.80 280.68) scale(0.93 1)" font-size="7.0">0.54</text>
<text transform="translate(196.70 310.44) scale(1.6 1)" font-size="7.0" stroke-width="0.05">−</text>
<text transform="translate(202.80 310.14) scale(0.93 1)" font-size="7.0">0.85</text>
<text transform="translate(196.70 339.90) scale(1.6 1)" font-size="7.0" stroke-width="0.05">−</text>
<text transform="translate(202.80 339.60) scale(0.93 1)" font-size="7.0">1.17</text>
<text x="218.5" y="187.1" font-size="12.1">(e) SPAEF</text>
<text transform="translate(229.23 347.20) rotate(-45) scale(0.93 1)" font-size="7.3" text-anchor="end">ACCESS</text>
<text transform="translate(239.69 347.20) rotate(-45) scale(0.93 1)" font-size="7.3" text-anchor="end">BCC_CSM</text>
<text transform="translate(250.15 347.20) rotate(-45) scale(0.93 1)" font-size="7.3" text-anchor="end">CanESM5</text>
<text transform="translate(260.62 347.20) rotate(-45) scale(0.93 1)" font-size="7.3" text-anchor="end">GFDL</text>
<text transform="translate(271.08 347.20) rotate(-45) scale(0.93 1)" font-size="7.3" text-anchor="end">GISS</text>
<text transform="translate(281.54 347.20) rotate(-45) scale(0.93 1)" font-size="7.3" text-anchor="end">INM-CM4-8</text>
<text transform="translate(292.00 347.20) rotate(-45) scale(0.93 1)" font-size="7.3" text-anchor="end">IPSL</text>
<text transform="translate(302.46 347.20) rotate(-45) scale(0.93 1)" font-size="7.3" text-anchor="end">KIOST</text>
<text transform="translate(312.92 347.20) rotate(-45) scale(0.93 1)" font-size="7.3" text-anchor="end">MIROC6</text>
<text transform="translate(323.38 347.20) rotate(-45) scale(0.93 1)" font-size="7.3" text-anchor="end">MPI_ESM_HR</text>
<text transform="translate(333.85 347.20) rotate(-45) scale(0.93 1)" font-size="7.3" text-anchor="end">MPI_ESM_LR</text>
<text transform="translate(344.31 347.20) rotate(-45) scale(0.93 1)" font-size="7.3" text-anchor="end">MRI-ESM2-0</text>
<text transform="translate(354.77 347.20) rotate(-45) scale(0.93 1)" font-size="7.3" text-anchor="end">NorESM2M</text>
<text transform="translate(366.40 192.30) scale(0.93 1)" font-size="7.0">1.00</text>
<text transform="translate(366.40 221.76) scale(0.93 1)" font-size="7.0">0.19</text>
<text transform="translate(362.30 251.52) scale(1.6 1)" font-size="7.0" stroke-width="0.05">−</text>
<text transform="translate(368.40 251.22) scale(0.93 1)" font-size="7.0">0.62</text>
<text transform="translate(362.30 280.98) scale(1.6 1)" font-size="7.0" stroke-width="0.05">−</text>
<text transform="translate(368.40 280.68) scale(0.93 1)" font-size="7.0">1.42</text>
<text transform="translate(362.30 310.44) scale(1.6 1)" font-size="7.0" stroke-width="0.05">−</text>
<text transform="translate(368.40 310.14) scale(0.93 1)" font-size="7.0">2.23</text>
<text transform="translate(362.30 339.90) scale(1.6 1)" font-size="7.0" stroke-width="0.05">−</text>
<text transform="translate(368.40 339.60) scale(0.93 1)" font-size="7.0">3.04</text>
<text x="384.1" y="187.1" font-size="12.1">(f) FSS</text>
<text transform="translate(394.83 347.20) rotate(-45) scale(0.93 1)" font-size="7.3" text-anchor="end">ACCESS</text>
<text transform="translate(405.29 347.20) rotate(-45) scale(0.93 1)" font-size="7.3" text-anchor="end">BCC_CSM</text>
<text transform="translate(415.75 347.20) rotate(-45) scale(0.93 1)" font-size="7.3" text-anchor="end">CanESM5</text>
<text transform="translate(426.22 347.20) rotate(-45) scale(0.93 1)" font-size="7.3" text-anchor="end">GFDL</text>
<text transform="translate(436.68 347.20) rotate(-45) scale(0.93 1)" font-size="7.3" text-anchor="end">GISS</text>
<text transform="translate(447.14 347.20) rotate(-45) scale(0.93 1)" font-size="7.3" text-anchor="end">INM-CM4-8</text>
<text transform="translate(457.60 347.20) rotate(-45) scale(0.93 1)" font-size="7.3" text-anchor="end">IPSL</text>
<text transform="translate(468.06 347.20) rotate(-45) scale(0.93 1)" font-size="7.3" text-anchor="end">KIOST</text>
<text transform="translate(478.52 347.20) rotate(-45) scale(0.93 1)" font-size="7.3" text-anchor="end">MIROC6</text>
<text transform="translate(488.98 347.20) rotate(-45) scale(0.93 1)" font-size="7.3" text-anchor="end">MPI_ESM_HR</text>
<text transform="translate(499.45 347.20) rotate(-45) scale(0.93 1)" font-size="7.3" text-anchor="end">MPI_ESM_LR</text>
<text transform="translate(509.91 347.20) rotate(-45) scale(0.93 1)" font-size="7.3" text-anchor="end">MRI-ESM2-0</text>
<text transform="translate(520.37 347.20) rotate(-45) scale(0.93 1)" font-size="7.3" text-anchor="end">NorESM2M</text>
<text transform="translate(528.60 192.30) scale(0.93 1)" font-size="7.0">1.00</text>
<text transform="translate(528.60 221.76) scale(0.93 1)" font-size="7.0">0.95</text>
<text transform="translate(528.60 251.22) scale(0.93 1)" font-size="7.0">0.90</text>
<text transform="translate(528.60 280.68) scale(0.93 1)" font-size="7.0">0.85</text>
<text transform="translate(528.60 310.14) scale(0.93 1)" font-size="7.0">0.80</text>
<text transform="translate(528.60 339.60) scale(0.93 1)" font-size="7.0">0.75</text>
</g>
</svg></body></html>
